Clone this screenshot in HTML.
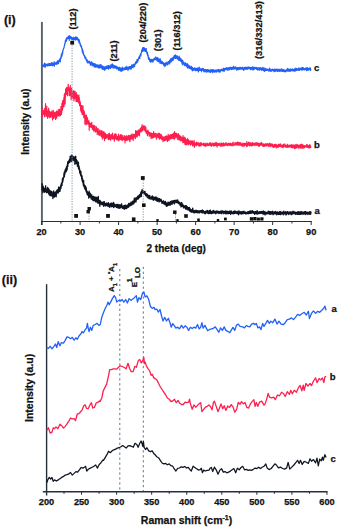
<!DOCTYPE html>
<html><head><meta charset="utf-8"><style>
html,body{margin:0;padding:0;background:#fff;}
svg{display:block;}
text{font-family:"Liberation Sans",sans-serif;font-weight:bold;fill:#111;stroke:#111;stroke-width:0.25px;}
.tk{font-size:9.2px;text-anchor:middle;}
.at{font-size:10px;}
.pn{font-size:12.6px;}
.pk{font-size:9.3px;}
.lb{font-size:9.5px;}
.rl{font-size:8px;}
</style></head><body>
<svg width="339" height="528" viewBox="0 0 339 528">
<rect width="339" height="528" fill="#fff"/>
<line x1="41.9" y1="21.9" x2="41.9" y2="225" stroke="#56626c" stroke-width="1.9"/>
<line x1="41" y1="221.5" x2="311.8" y2="221.5" stroke="#25303a" stroke-width="1.2"/>
<line x1="41.60" y1="221.5" x2="41.60" y2="225.0" stroke="#25303a" stroke-width="1"/>
<text x="41.60" y="235.1" class="tk">20</text>
<line x1="60.86" y1="221.5" x2="60.86" y2="223.5" stroke="#25303a" stroke-width="1"/>
<line x1="80.11" y1="221.5" x2="80.11" y2="225.0" stroke="#25303a" stroke-width="1"/>
<text x="80.11" y="235.1" class="tk">30</text>
<line x1="99.37" y1="221.5" x2="99.37" y2="223.5" stroke="#25303a" stroke-width="1"/>
<line x1="118.62" y1="221.5" x2="118.62" y2="225.0" stroke="#25303a" stroke-width="1"/>
<text x="118.62" y="235.1" class="tk">40</text>
<line x1="137.88" y1="221.5" x2="137.88" y2="223.5" stroke="#25303a" stroke-width="1"/>
<line x1="157.13" y1="221.5" x2="157.13" y2="225.0" stroke="#25303a" stroke-width="1"/>
<text x="157.13" y="235.1" class="tk">50</text>
<line x1="176.38" y1="221.5" x2="176.38" y2="223.5" stroke="#25303a" stroke-width="1"/>
<line x1="195.64" y1="221.5" x2="195.64" y2="225.0" stroke="#25303a" stroke-width="1"/>
<text x="195.64" y="235.1" class="tk">60</text>
<line x1="214.89" y1="221.5" x2="214.89" y2="223.5" stroke="#25303a" stroke-width="1"/>
<line x1="234.15" y1="221.5" x2="234.15" y2="225.0" stroke="#25303a" stroke-width="1"/>
<text x="234.15" y="235.1" class="tk">70</text>
<line x1="253.41" y1="221.5" x2="253.41" y2="223.5" stroke="#25303a" stroke-width="1"/>
<line x1="272.66" y1="221.5" x2="272.66" y2="225.0" stroke="#25303a" stroke-width="1"/>
<text x="272.66" y="235.1" class="tk">80</text>
<line x1="291.92" y1="221.5" x2="291.92" y2="223.5" stroke="#25303a" stroke-width="1"/>
<line x1="311.17" y1="221.5" x2="311.17" y2="225.0" stroke="#25303a" stroke-width="1"/>
<text x="311.17" y="235.1" class="tk">90</text>
<line x1="46.6" y1="284.2" x2="46.6" y2="495.5" stroke="#25303a" stroke-width="1.4"/>
<line x1="42.8" y1="491.8" x2="327.5" y2="491.8" stroke="#25303a" stroke-width="1.4"/>
<line x1="46.50" y1="491.8" x2="46.50" y2="494.8" stroke="#25303a" stroke-width="1"/>
<text x="46.50" y="505.1" class="tk">200</text>
<line x1="64.03" y1="491.8" x2="64.03" y2="493.8" stroke="#25303a" stroke-width="1"/>
<line x1="81.56" y1="491.8" x2="81.56" y2="494.8" stroke="#25303a" stroke-width="1"/>
<text x="81.56" y="505.1" class="tk">250</text>
<line x1="99.09" y1="491.8" x2="99.09" y2="493.8" stroke="#25303a" stroke-width="1"/>
<line x1="116.62" y1="491.8" x2="116.62" y2="494.8" stroke="#25303a" stroke-width="1"/>
<text x="116.62" y="505.1" class="tk">300</text>
<line x1="134.15" y1="491.8" x2="134.15" y2="493.8" stroke="#25303a" stroke-width="1"/>
<line x1="151.68" y1="491.8" x2="151.68" y2="494.8" stroke="#25303a" stroke-width="1"/>
<text x="151.68" y="505.1" class="tk">350</text>
<line x1="169.21" y1="491.8" x2="169.21" y2="493.8" stroke="#25303a" stroke-width="1"/>
<line x1="186.74" y1="491.8" x2="186.74" y2="494.8" stroke="#25303a" stroke-width="1"/>
<text x="186.74" y="505.1" class="tk">400</text>
<line x1="204.27" y1="491.8" x2="204.27" y2="493.8" stroke="#25303a" stroke-width="1"/>
<line x1="221.80" y1="491.8" x2="221.80" y2="494.8" stroke="#25303a" stroke-width="1"/>
<text x="221.80" y="505.1" class="tk">450</text>
<line x1="239.33" y1="491.8" x2="239.33" y2="493.8" stroke="#25303a" stroke-width="1"/>
<line x1="256.86" y1="491.8" x2="256.86" y2="494.8" stroke="#25303a" stroke-width="1"/>
<text x="256.86" y="505.1" class="tk">500</text>
<line x1="274.39" y1="491.8" x2="274.39" y2="493.8" stroke="#25303a" stroke-width="1"/>
<line x1="291.92" y1="491.8" x2="291.92" y2="494.8" stroke="#25303a" stroke-width="1"/>
<text x="291.92" y="505.1" class="tk">550</text>
<line x1="309.45" y1="491.8" x2="309.45" y2="493.8" stroke="#25303a" stroke-width="1"/>
<line x1="326.98" y1="491.8" x2="326.98" y2="494.8" stroke="#25303a" stroke-width="1"/>
<text x="326.98" y="505.1" class="tk">600</text>
<line x1="119.8" y1="269.1" x2="119.8" y2="491" stroke="#5a7386" stroke-width="1" stroke-dasharray="2.2 2.76"/>
<line x1="143.3" y1="266.75" x2="143.3" y2="491" stroke="#5a7386" stroke-width="1" stroke-dasharray="2.2 2.76"/>
<polyline points="42.0,66.3 42.1,66.7 42.2,66.3 42.3,64.8 42.4,66.7 42.5,66.3 42.6,65.4 42.7,66.4 42.8,66.2 42.9,66.1 43.0,65.8 43.1,66.3 43.2,65.1 43.3,65.6 43.4,65.3 43.5,66.2 43.6,65.7 43.7,65.4 43.8,64.9 43.9,65.4 44.0,65.6 44.1,65.3 44.2,66.7 44.3,66.4 44.4,63.1 44.5,63.8 44.6,65.3 44.7,65.1 44.8,65.6 44.9,65.6 45.0,67.3 45.1,64.4 45.2,65.0 45.3,67.2 45.4,65.9 45.5,65.9 45.6,64.9 45.7,63.8 45.8,65.5 45.9,65.4 46.0,64.2 46.1,64.7 46.2,65.2 46.3,64.4 46.4,65.1 46.5,65.3 46.6,65.2 46.7,64.7 46.8,65.7 46.9,66.0 47.0,65.4 47.1,64.4 47.2,65.8 47.3,64.7 47.4,65.9 47.5,64.1 47.6,65.9 47.7,65.1 47.8,63.9 47.9,64.8 48.0,65.1 48.1,65.3 48.2,64.1 48.3,64.0 48.4,65.2 48.5,64.6 48.6,65.2 48.7,65.6 48.8,63.5 48.9,65.2 49.0,66.0 49.1,64.6 49.2,64.2 49.3,65.6 49.4,65.1 49.5,65.7 49.6,64.5 49.7,63.5 49.8,64.7 49.9,64.4 50.0,65.5 50.1,65.0 50.2,63.3 50.3,63.7 50.4,65.5 50.5,65.3 50.6,64.1 50.7,64.7 50.8,65.0 50.9,65.0 51.0,65.4 51.1,64.8 51.2,64.5 51.3,64.3 51.4,65.5 51.5,62.5 51.6,64.4 51.7,64.5 51.8,63.2 51.9,64.7 52.0,63.8 52.1,65.2 52.2,64.2 52.3,64.9 52.4,65.4 52.5,64.6 52.6,63.5 52.7,62.9 52.8,65.8 52.9,64.1 53.0,63.6 53.1,64.3 53.2,64.0 53.3,64.9 53.4,64.2 53.5,64.1 53.6,63.4 53.7,64.5 53.8,63.1 53.9,64.6 54.0,65.4 54.1,62.6 54.2,61.7 54.3,64.5 54.4,66.2 54.5,63.0 54.6,62.8 54.7,64.4 54.8,63.1 54.9,63.4 55.0,63.5 55.1,64.2 55.2,63.3 55.3,63.9 55.4,63.5 55.5,62.8 55.6,63.2 55.7,62.6 55.8,63.4 55.9,62.4 56.0,62.3 56.1,64.6 56.2,63.2 56.3,63.1 56.4,63.6 56.5,62.7 56.6,62.8 56.7,63.4 56.8,63.2 56.9,61.9 57.0,63.6 57.1,62.3 57.2,61.8 57.3,61.9 57.4,62.3 57.5,64.1 57.6,61.5 57.7,62.7 57.8,60.6 57.9,62.4 58.0,63.2 58.1,62.1 58.2,61.6 58.3,62.2 58.4,62.6 58.5,62.4 58.6,63.5 58.7,61.7 58.8,60.9 58.9,61.2 59.0,61.1 59.1,61.2 59.2,60.9 59.3,61.0 59.4,59.2 59.5,61.3 59.6,60.0 59.7,59.3 59.8,60.8 59.9,61.3 60.0,60.4 60.1,59.9 60.2,58.8 60.3,62.0 60.4,60.0 60.5,58.0 60.6,58.1 60.7,58.6 60.8,56.9 60.9,58.1 61.0,57.2 61.1,58.4 61.2,57.8 61.3,54.1 61.4,56.3 61.5,54.5 61.6,56.6 61.7,55.4 61.8,55.4 61.9,53.6 62.0,55.9 62.1,55.7 62.2,52.6 62.3,53.6 62.4,52.3 62.5,52.5 62.6,51.1 62.7,53.6 62.8,50.7 62.9,51.0 63.0,51.3 63.1,50.0 63.2,50.0 63.3,49.4 63.4,49.4 63.5,48.2 63.6,48.5 63.7,48.4 63.8,47.9 63.9,47.9 64.0,47.3 64.1,47.9 64.2,46.5 64.3,46.3 64.4,45.4 64.5,45.1 64.6,44.0 64.7,45.2 64.8,43.3 64.9,43.3 65.0,43.9 65.1,43.5 65.2,42.4 65.3,40.5 65.4,42.3 65.5,41.8 65.6,40.0 65.7,41.8 65.8,40.2 65.9,39.6 66.0,40.5 66.1,40.1 66.2,40.2 66.3,38.3 66.4,41.2 66.5,38.8 66.6,37.8 66.7,39.5 66.8,38.4 66.9,38.8 67.0,38.2 67.1,38.4 67.2,38.6 67.3,37.7 67.4,38.9 67.5,37.8 67.6,37.4 67.7,38.2 67.8,38.5 67.9,37.9 68.0,37.2 68.1,38.5 68.2,36.3 68.3,37.0 68.4,37.9 68.5,36.6 68.6,37.8 68.7,37.7 68.8,38.6 68.9,36.9 69.0,37.2 69.1,38.0 69.2,35.5 69.3,40.4 69.4,37.1 69.5,37.0 69.6,38.4 69.7,37.6 69.8,36.0 69.9,38.2 70.0,38.4 70.1,37.2 70.2,37.4 70.3,38.1 70.4,36.9 70.5,38.1 70.6,38.0 70.7,37.2 70.8,36.6 70.9,37.7 71.0,37.1 71.1,38.8 71.2,38.1 71.3,38.7 71.4,38.1 71.5,38.3 71.6,37.4 71.7,38.7 71.8,39.7 71.9,37.9 72.0,37.7 72.1,38.1 72.2,37.8 72.3,37.7 72.4,38.4 72.5,38.1 72.6,39.7 72.7,38.4 72.8,38.7 72.9,39.3 73.0,38.2 73.1,39.8 73.2,38.0 73.3,37.9 73.4,38.3 73.5,38.5 73.6,37.4 73.7,38.7 73.8,37.2 73.9,40.0 74.0,38.7 74.1,38.2 74.2,38.0 74.3,38.4 74.4,38.6 74.5,37.8 74.6,37.9 74.7,38.6 74.8,38.3 74.9,39.6 75.0,39.7 75.1,38.7 75.2,39.1 75.3,37.5 75.4,39.2 75.5,38.6 75.6,39.1 75.7,40.1 75.8,36.6 75.9,38.8 76.0,37.6 76.1,39.1 76.2,37.4 76.3,38.2 76.4,38.8 76.5,39.2 76.6,38.7 76.7,38.0 76.8,38.2 76.9,39.5 77.0,38.7 77.1,37.2 77.2,39.5 77.3,39.1 77.4,39.6 77.5,38.5 77.6,39.7 77.7,38.1 77.8,39.7 77.9,38.9 78.0,40.1 78.1,40.6 78.2,39.1 78.3,39.9 78.4,40.1 78.5,41.3 78.6,41.0 78.7,39.4 78.8,41.1 78.9,41.5 79.0,42.8 79.1,39.6 79.2,40.7 79.3,42.6 79.4,40.3 79.5,40.7 79.6,42.5 79.7,43.3 79.8,42.0 79.9,43.4 80.0,43.3 80.1,44.9 80.2,43.8 80.3,45.0 80.4,43.5 80.5,44.5 80.6,44.8 80.7,46.2 80.8,46.0 80.9,45.1 81.0,46.7 81.1,47.0 81.2,46.5 81.3,46.7 81.4,47.0 81.5,46.0 81.6,48.0 81.7,48.4 81.8,47.8 81.9,49.5 82.0,48.0 82.1,49.1 82.2,49.5 82.3,52.0 82.4,49.1 82.5,51.4 82.6,52.1 82.7,51.9 82.8,53.0 82.9,51.3 83.0,50.5 83.1,53.5 83.2,52.0 83.3,53.0 83.4,52.4 83.5,54.7 83.6,54.7 83.7,53.5 83.8,55.1 83.9,54.6 84.0,54.6 84.1,55.0 84.2,55.0 84.3,55.9 84.4,55.8 84.5,55.4 84.6,56.9 84.7,55.6 84.8,56.6 84.9,56.9 85.0,58.1 85.1,56.5 85.2,58.7 85.3,57.5 85.4,57.4 85.5,57.2 85.6,58.5 85.7,58.2 85.8,57.4 85.9,57.6 86.0,58.2 86.1,58.3 86.2,60.0 86.3,60.4 86.4,60.1 86.5,59.8 86.6,59.2 86.7,59.8 86.8,60.7 86.9,61.9 87.0,61.0 87.1,60.0 87.2,60.5 87.3,60.1 87.4,60.0 87.5,60.7 87.6,61.2 87.7,62.8 87.8,61.3 87.9,62.6 88.0,63.1 88.1,61.6 88.2,63.0 88.3,62.3 88.4,61.4 88.5,62.0 88.6,61.9 88.7,61.7 88.8,61.8 88.9,62.2 89.0,62.5 89.1,61.4 89.2,62.3 89.3,61.0 89.4,62.6 89.5,63.0 89.6,62.7 89.7,62.9 89.8,63.2 89.9,62.1 90.0,62.6 90.1,63.3 90.2,63.8 90.3,63.3 90.4,65.3 90.5,63.0 90.6,64.0 90.7,64.3 90.8,63.1 90.9,62.5 91.0,62.2 91.1,63.5 91.2,64.4 91.3,63.7 91.4,63.7 91.5,63.2 91.6,64.1 91.7,61.7 91.8,63.9 91.9,63.8 92.0,62.6 92.1,65.8 92.2,62.7 92.3,63.0 92.4,62.9 92.5,65.1 92.6,63.3 92.7,64.8 92.8,64.8 92.9,64.5 93.0,63.2 93.1,63.8 93.2,65.9 93.3,63.3 93.4,63.8 93.5,64.5 93.6,65.4 93.7,64.9 93.8,65.4 93.9,63.9 94.0,65.7 94.1,65.4 94.2,63.5 94.3,66.4 94.4,67.1 94.5,64.4 94.6,65.2 94.7,66.5 94.8,64.0 94.9,63.6 95.0,64.2 95.1,64.9 95.2,64.9 95.3,66.0 95.4,65.8 95.5,64.4 95.6,66.1 95.7,67.3 95.8,66.7 95.9,66.5 96.0,65.7 96.1,66.6 96.2,64.9 96.3,66.4 96.4,65.7 96.5,66.8 96.6,66.3 96.7,64.9 96.8,66.0 96.9,67.0 97.0,64.9 97.1,65.5 97.2,65.3 97.3,64.7 97.4,66.9 97.5,67.3 97.6,66.8 97.7,66.4 97.8,66.1 97.9,66.4 98.0,65.6 98.1,67.1 98.2,67.2 98.3,67.2 98.4,65.9 98.5,66.5 98.6,66.3 98.7,68.0 98.8,66.6 98.9,64.8 99.0,66.9 99.1,68.2 99.2,67.2 99.3,67.4 99.4,66.7 99.5,64.9 99.6,65.1 99.7,65.6 99.8,66.6 99.9,67.1 100.0,67.4 100.1,66.5 100.2,67.7 100.3,66.6 100.4,66.3 100.5,67.7 100.6,66.1 100.7,64.5 100.8,66.0 100.9,67.1 101.0,64.3 101.1,66.7 101.2,66.8 101.3,65.8 101.4,65.8 101.5,66.7 101.6,66.7 101.7,68.3 101.8,67.6 101.9,65.8 102.0,66.5 102.1,67.9 102.2,69.0 102.3,67.7 102.4,67.7 102.5,69.1 102.6,67.4 102.7,67.2 102.8,66.2 102.9,67.0 103.0,69.5 103.1,66.3 103.2,67.6 103.3,66.3 103.4,67.7 103.5,68.4 103.6,67.4 103.7,68.3 103.8,68.4 103.9,68.1 104.0,69.3 104.1,68.5 104.2,67.5 104.3,67.2 104.4,67.1 104.5,68.3 104.6,67.6 104.7,70.4 104.8,69.6 104.9,67.8 105.0,67.7 105.1,69.5 105.2,66.3 105.3,67.5 105.4,68.8 105.5,67.1 105.6,67.5 105.7,67.6 105.8,68.5 105.9,68.0 106.0,68.2 106.1,68.4 106.2,67.8 106.3,68.8 106.4,67.1 106.5,66.5 106.6,66.1 106.7,66.3 106.8,67.2 106.9,68.6 107.0,67.8 107.1,67.1 107.2,66.7 107.3,67.2 107.4,67.3 107.5,67.1 107.6,66.3 107.7,67.1 107.8,68.5 107.9,65.6 108.0,67.3 108.1,65.6 108.2,67.7 108.3,66.8 108.4,65.6 108.5,67.5 108.6,69.1 108.7,67.5 108.8,68.4 108.9,67.3 109.0,65.4 109.1,67.8 109.2,67.0 109.3,66.0 109.4,68.0 109.5,67.5 109.6,66.8 109.7,68.0 109.8,66.4 109.9,67.8 110.0,66.3 110.1,67.7 110.2,66.1 110.3,68.5 110.4,67.3 110.5,68.3 110.6,66.3 110.7,66.6 110.8,67.7 110.9,64.5 111.0,65.9 111.1,67.8 111.2,67.3 111.3,67.7 111.4,66.5 111.5,67.3 111.6,66.1 111.7,65.5 111.8,65.1 111.9,66.1 112.0,66.1 112.1,66.0 112.2,63.8 112.3,64.7 112.4,66.0 112.5,66.7 112.6,65.9 112.7,65.6 112.8,64.3 112.9,68.1 113.0,65.3 113.1,67.8 113.2,67.8 113.3,66.6 113.4,65.9 113.5,66.5 113.6,65.4 113.7,66.7 113.8,66.5 113.9,67.0 114.0,67.4 114.1,68.1 114.2,66.3 114.3,67.6 114.4,65.9 114.5,65.9 114.6,66.1 114.7,65.8 114.8,67.6 114.9,67.6 115.0,68.0 115.1,66.8 115.2,67.2 115.3,66.5 115.4,66.0 115.5,67.5 115.6,67.4 115.7,66.2 115.8,67.8 115.9,65.8 116.0,67.2 116.1,66.9 116.2,67.0 116.3,66.6 116.4,68.5 116.5,68.2 116.6,68.8 116.7,67.9 116.8,66.7 116.9,67.6 117.0,66.9 117.1,68.5 117.2,69.2 117.3,68.5 117.4,67.7 117.5,68.0 117.6,68.5 117.7,67.1 117.8,68.6 117.9,68.7 118.0,68.1 118.1,68.2 118.2,68.8 118.3,68.0 118.4,68.0 118.5,69.5 118.6,69.0 118.7,70.4 118.8,68.0 118.9,67.3 119.0,69.8 119.1,69.9 119.2,68.4 119.3,67.8 119.4,69.1 119.5,67.6 119.6,68.9 119.7,67.3 119.8,69.1 119.9,67.4 120.0,69.2 120.1,70.8 120.2,69.2 120.3,70.2 120.4,69.0 120.5,68.8 120.6,68.3 120.7,70.6 120.8,69.6 120.9,71.2 121.0,68.7 121.1,69.5 121.2,69.8 121.3,70.9 121.4,71.3 121.5,69.0 121.6,68.6 121.7,68.0 121.8,70.7 121.9,69.4 122.0,68.9 122.1,69.4 122.2,67.1 122.3,67.8 122.4,70.2 122.5,69.7 122.6,69.4 122.7,68.3 122.8,69.7 122.9,70.8 123.0,68.1 123.1,69.1 123.2,68.7 123.3,69.4 123.4,69.0 123.5,68.9 123.6,68.2 123.7,68.9 123.8,68.4 123.9,68.7 124.0,68.8 124.1,69.4 124.2,68.3 124.3,68.5 124.4,69.7 124.5,68.5 124.6,68.4 124.7,69.4 124.8,68.9 124.9,68.7 125.0,68.8 125.1,67.4 125.2,68.9 125.3,69.7 125.4,69.0 125.5,67.0 125.6,68.7 125.7,67.6 125.8,68.2 125.9,68.5 126.0,67.3 126.1,69.5 126.2,68.2 126.3,69.0 126.4,68.8 126.5,69.4 126.6,69.3 126.7,66.9 126.8,68.2 126.9,66.2 127.0,67.7 127.1,68.7 127.2,68.9 127.3,69.2 127.4,67.7 127.5,68.3 127.6,68.1 127.7,69.1 127.8,69.4 127.9,67.6 128.0,70.6 128.1,67.9 128.2,67.5 128.3,68.4 128.4,68.5 128.5,68.3 128.6,67.2 128.7,69.1 128.8,67.8 128.9,69.1 129.0,68.9 129.1,66.5 129.2,66.8 129.3,66.7 129.4,67.8 129.5,67.6 129.6,67.8 129.7,66.8 129.8,67.9 129.9,68.8 130.0,66.3 130.1,67.3 130.2,67.6 130.3,67.2 130.4,67.1 130.5,68.9 130.6,68.4 130.7,68.0 130.8,66.5 130.9,69.1 131.0,67.4 131.1,66.5 131.2,66.7 131.3,66.5 131.4,68.8 131.5,67.1 131.6,66.9 131.7,64.9 131.8,67.4 131.9,65.8 132.0,65.7 132.1,67.2 132.2,65.8 132.3,67.3 132.4,67.5 132.5,64.9 132.6,66.3 132.7,65.0 132.8,66.3 132.9,67.1 133.0,65.0 133.1,67.8 133.2,65.8 133.3,65.0 133.4,65.8 133.5,66.5 133.6,64.5 133.7,65.7 133.8,64.3 133.9,66.6 134.0,65.5 134.1,64.9 134.2,66.1 134.3,64.0 134.4,64.7 134.5,66.6 134.6,64.7 134.7,66.0 134.8,64.8 134.9,63.9 135.0,64.2 135.1,64.4 135.2,63.8 135.3,63.3 135.4,63.2 135.5,62.4 135.6,63.7 135.7,63.8 135.8,64.0 135.9,61.5 136.0,63.7 136.1,62.8 136.2,61.4 136.3,62.6 136.4,63.1 136.5,62.7 136.6,62.7 136.7,62.8 136.8,62.6 136.9,61.6 137.0,59.6 137.1,60.6 137.2,61.5 137.3,60.6 137.4,61.5 137.5,61.4 137.6,60.6 137.7,62.1 137.8,59.4 137.9,61.0 138.0,59.5 138.1,59.1 138.2,60.1 138.3,58.8 138.4,60.0 138.5,57.9 138.6,58.8 138.7,57.8 138.8,58.2 138.9,57.8 139.0,57.0 139.1,58.4 139.2,56.5 139.3,56.5 139.4,58.0 139.5,57.9 139.6,57.4 139.7,56.9 139.8,58.4 139.9,55.1 140.0,55.3 140.1,54.9 140.2,56.4 140.3,55.6 140.4,56.2 140.5,55.8 140.6,54.5 140.7,53.7 140.8,53.3 140.9,56.0 141.0,54.6 141.1,54.0 141.2,52.9 141.3,52.8 141.4,52.4 141.5,52.2 141.6,50.1 141.7,51.9 141.8,51.4 141.9,51.7 142.0,51.4 142.1,51.8 142.2,50.7 142.3,51.2 142.4,47.9 142.5,49.1 142.6,51.5 142.7,48.7 142.8,49.5 142.9,50.3 143.0,48.8 143.1,50.2 143.2,48.1 143.3,47.6 143.4,48.1 143.5,47.7 143.6,49.1 143.7,48.7 143.8,49.2 143.9,47.9 144.0,51.1 144.1,48.6 144.2,48.6 144.3,49.0 144.4,48.2 144.5,47.9 144.6,48.6 144.7,49.5 144.8,49.5 144.9,49.9 145.0,48.7 145.1,48.6 145.2,51.3 145.3,49.4 145.4,50.2 145.5,50.6 145.6,51.4 145.7,49.0 145.8,50.0 145.9,50.2 146.0,50.4 146.1,48.7 146.2,50.9 146.3,48.6 146.4,51.6 146.5,52.0 146.6,52.3 146.7,51.0 146.8,53.2 146.9,51.9 147.0,51.9 147.1,52.4 147.2,52.8 147.3,54.0 147.4,54.9 147.5,52.6 147.6,54.3 147.7,55.8 147.8,55.5 147.9,56.1 148.0,54.6 148.1,57.1 148.2,55.1 148.3,57.0 148.4,58.3 148.5,59.1 148.6,58.1 148.7,58.6 148.8,57.5 148.9,57.8 149.0,59.5 149.1,58.6 149.2,58.7 149.3,57.7 149.4,59.3 149.5,60.0 149.6,58.9 149.7,59.3 149.8,61.4 149.9,60.4 150.0,60.1 150.1,59.4 150.2,59.9 150.3,60.3 150.4,61.8 150.5,60.0 150.6,62.2 150.7,59.8 150.8,60.3 150.9,61.4 151.0,60.5 151.1,60.0 151.2,60.6 151.3,61.2 151.4,59.3 151.5,60.6 151.6,60.8 151.7,60.5 151.8,61.6 151.9,60.5 152.0,60.6 152.1,60.9 152.2,61.5 152.3,60.5 152.4,62.0 152.5,59.7 152.6,61.6 152.7,59.6 152.8,60.1 152.9,60.5 153.0,61.9 153.1,60.8 153.2,59.6 153.3,61.0 153.4,59.5 153.5,58.9 153.6,60.0 153.7,59.6 153.8,60.2 153.9,58.8 154.0,59.6 154.1,59.7 154.2,59.4 154.3,59.0 154.4,58.4 154.5,59.8 154.6,59.1 154.7,59.3 154.8,58.5 154.9,58.8 155.0,57.8 155.1,58.8 155.2,59.3 155.3,58.7 155.4,59.3 155.5,58.8 155.6,59.7 155.7,58.3 155.8,56.9 155.9,58.7 156.0,58.2 156.1,57.5 156.2,59.0 156.3,58.7 156.4,59.0 156.5,58.4 156.6,58.9 156.7,59.0 156.8,60.5 156.9,58.3 157.0,59.0 157.1,59.4 157.2,57.6 157.3,57.8 157.4,61.2 157.5,57.8 157.6,59.9 157.7,58.7 157.8,58.9 157.9,57.8 158.0,58.9 158.1,60.5 158.2,58.6 158.3,60.4 158.4,60.2 158.5,61.8 158.6,59.7 158.7,61.3 158.8,61.0 158.9,60.0 159.0,58.9 159.1,61.8 159.2,59.3 159.3,60.1 159.4,61.4 159.5,61.7 159.6,60.0 159.7,60.8 159.8,60.6 159.9,62.0 160.0,63.3 160.1,59.4 160.2,62.0 160.3,58.7 160.4,61.4 160.5,60.4 160.6,63.3 160.7,61.7 160.8,61.0 160.9,61.3 161.0,61.3 161.1,62.1 161.2,61.9 161.3,62.7 161.4,63.6 161.5,62.9 161.6,61.3 161.7,61.0 161.8,61.9 161.9,63.6 162.0,62.4 162.1,62.2 162.2,62.9 162.3,61.6 162.4,61.9 162.5,63.5 162.6,62.8 162.7,62.7 162.8,63.5 162.9,62.7 163.0,62.7 163.1,62.9 163.2,64.0 163.3,63.5 163.4,62.5 163.5,63.3 163.6,64.2 163.7,65.4 163.8,62.8 163.9,64.1 164.0,63.7 164.1,64.7 164.2,64.4 164.3,65.4 164.4,64.6 164.5,63.7 164.6,63.8 164.7,64.7 164.8,64.7 164.9,66.6 165.0,66.0 165.1,63.4 165.2,64.7 165.3,63.2 165.4,62.8 165.5,64.9 165.6,64.7 165.7,63.3 165.8,65.6 165.9,63.2 166.0,63.0 166.1,64.6 166.2,64.2 166.3,63.8 166.4,63.8 166.5,64.0 166.6,63.7 166.7,63.6 166.8,62.0 166.9,62.4 167.0,64.1 167.1,62.9 167.2,63.9 167.3,64.5 167.4,63.0 167.5,63.5 167.6,65.0 167.7,63.7 167.8,64.7 167.9,64.3 168.0,63.5 168.1,62.7 168.2,62.0 168.3,61.6 168.4,63.0 168.5,62.9 168.6,62.3 168.7,63.1 168.8,61.7 168.9,63.2 169.0,62.2 169.1,62.0 169.2,62.0 169.3,61.8 169.4,64.1 169.5,60.3 169.6,61.8 169.7,62.7 169.8,62.2 169.9,61.2 170.0,62.9 170.1,60.3 170.2,60.0 170.3,61.7 170.4,59.8 170.5,58.9 170.6,61.7 170.7,61.5 170.8,61.4 170.9,60.2 171.0,60.7 171.1,59.5 171.2,61.9 171.3,60.9 171.4,60.8 171.5,58.2 171.6,60.6 171.7,61.1 171.8,60.8 171.9,60.3 172.0,59.5 172.1,59.1 172.2,59.8 172.3,59.5 172.4,59.3 172.5,58.7 172.6,60.4 172.7,57.7 172.8,58.7 172.9,58.1 173.0,59.4 173.1,59.7 173.2,59.4 173.3,58.9 173.4,56.8 173.5,59.9 173.6,58.4 173.7,57.8 173.8,57.9 173.9,57.5 174.0,58.1 174.1,58.0 174.2,57.3 174.3,55.3 174.4,57.5 174.5,57.9 174.6,57.9 174.7,57.3 174.8,57.8 174.9,58.2 175.0,56.8 175.1,58.5 175.2,55.4 175.3,56.0 175.4,56.2 175.5,54.8 175.6,56.1 175.7,58.1 175.8,58.1 175.9,57.1 176.0,58.6 176.1,57.3 176.2,56.6 176.3,57.3 176.4,57.0 176.5,57.8 176.6,55.8 176.7,58.0 176.8,56.7 176.9,57.9 177.0,55.8 177.1,56.8 177.2,57.2 177.3,58.0 177.4,56.1 177.5,58.7 177.6,57.7 177.7,56.9 177.8,58.5 177.9,57.6 178.0,58.6 178.1,59.8 178.2,58.5 178.3,57.4 178.4,57.5 178.5,58.5 178.6,58.3 178.7,57.4 178.8,57.6 178.9,58.9 179.0,60.5 179.1,56.1 179.2,59.2 179.3,58.5 179.4,59.4 179.5,59.6 179.6,59.0 179.7,58.1 179.8,57.9 179.9,57.5 180.0,60.4 180.1,59.3 180.2,59.1 180.3,59.4 180.4,58.6 180.5,60.1 180.6,61.2 180.7,61.1 180.8,58.8 180.9,61.5 181.0,59.7 181.1,58.8 181.2,59.5 181.3,59.9 181.4,60.8 181.5,60.0 181.6,59.7 181.7,60.9 181.8,63.0 181.9,60.7 182.0,61.9 182.1,61.6 182.2,64.1 182.3,60.1 182.4,62.9 182.5,60.8 182.6,61.6 182.7,62.1 182.8,65.0 182.9,61.7 183.0,60.8 183.1,63.8 183.2,61.9 183.3,62.6 183.4,62.9 183.5,63.1 183.6,62.9 183.7,63.4 183.8,63.6 183.9,64.2 184.0,63.1 184.1,62.9 184.2,62.7 184.3,64.3 184.4,63.9 184.5,64.5 184.6,64.6 184.7,65.7 184.8,64.5 184.9,65.1 185.0,63.4 185.1,63.6 185.2,64.3 185.3,63.6 185.4,65.4 185.5,63.6 185.6,64.9 185.7,62.7 185.8,64.0 185.9,64.7 186.0,64.9 186.1,63.5 186.2,65.3 186.3,66.2 186.4,65.9 186.5,64.8 186.6,64.9 186.7,64.5 186.8,66.1 186.9,66.9 187.0,65.2 187.1,64.2 187.2,66.0 187.3,66.5 187.4,63.5 187.5,66.1 187.6,68.0 187.7,66.9 187.8,66.7 187.9,66.6 188.0,67.3 188.1,65.5 188.2,65.7 188.3,66.8 188.4,65.9 188.5,66.8 188.6,64.9 188.7,67.4 188.8,67.5 188.9,66.8 189.0,67.0 189.1,68.4 189.2,66.0 189.3,66.2 189.4,66.1 189.5,66.8 189.6,66.3 189.7,67.3 189.8,66.7 189.9,66.1 190.0,66.0 190.1,68.6 190.2,67.5 190.3,67.4 190.4,67.7 190.5,67.6 190.6,68.5 190.7,68.3 190.8,67.4 190.9,67.2 191.0,67.0 191.1,66.9 191.2,69.3 191.3,67.3 191.4,66.3 191.5,67.4 191.6,67.5 191.7,68.5 191.8,67.4 191.9,68.8 192.0,68.6 192.1,69.5 192.2,70.3 192.3,71.0 192.4,69.6 192.5,67.4 192.6,68.1 192.7,68.7 192.8,70.4 192.9,69.2 193.0,69.7 193.1,68.5 193.2,69.2 193.3,69.3 193.4,68.3 193.5,69.4 193.6,69.7 193.7,68.7 193.8,69.8 193.9,70.4 194.0,69.0 194.1,68.9 194.2,68.6 194.3,68.4 194.4,69.1 194.5,68.6 194.6,68.7 194.7,68.3 194.8,67.6 194.9,68.2 195.0,69.3 195.1,68.0 195.2,68.5 195.3,70.6 195.4,70.1 195.5,68.5 195.6,69.7 195.7,68.5 195.8,70.6 195.9,68.6 196.0,69.2 196.1,70.4 196.2,68.4 196.3,70.4 196.4,68.5 196.5,69.4 196.6,69.0 196.7,69.2 196.8,69.4 196.9,69.2 197.0,68.4 197.1,70.1 197.2,70.0 197.3,70.5 197.4,70.6 197.5,68.1 197.6,70.5 197.7,70.5 197.8,68.9 197.9,70.3 198.0,70.7 198.1,68.9 198.2,68.1 198.3,69.1 198.4,71.9 198.5,69.6 198.6,68.3 198.7,69.2 198.8,68.5 198.9,69.1 199.0,69.5 199.1,67.1 199.2,69.8 199.3,70.7 199.4,69.3 199.5,69.1 199.6,70.5 199.7,68.3 199.8,68.4 199.9,68.2 200.0,69.4 200.1,69.8 200.2,69.5 200.3,69.9 200.4,70.2 200.5,69.9 200.6,69.0 200.7,69.4 200.8,70.5 200.9,68.9 201.0,69.5 201.1,69.4 201.2,69.6 201.3,69.0 201.4,68.8 201.5,71.6 201.6,70.5 201.7,69.3 201.8,69.8 201.9,70.3 202.0,69.6 202.1,70.3 202.2,69.5 202.3,69.7 202.4,69.9 202.5,69.6 202.6,68.3 202.7,70.0 202.8,70.2 202.9,70.4 203.0,69.3 203.1,70.3 203.2,70.2 203.3,68.9 203.4,68.6 203.5,70.5 203.6,69.5 203.7,70.9 203.8,71.7 203.9,69.8 204.0,69.7 204.1,70.2 204.2,70.7 204.3,69.5 204.4,71.2 204.5,71.0 204.6,70.8 204.7,70.0 204.8,71.0 204.9,71.0 205.0,69.6 205.1,71.9 205.2,70.2 205.3,70.7 205.4,70.1 205.5,70.7 205.6,71.3 205.7,69.9 205.8,69.3 205.9,70.2 206.0,69.6 206.1,70.0 206.2,70.5 206.3,70.5 206.4,71.5 206.5,69.9 206.6,70.8 206.7,70.2 206.8,71.6 206.9,72.4 207.0,70.9 207.1,71.8 207.2,70.3 207.3,69.6 207.4,69.8 207.5,69.6 207.6,70.0 207.7,70.6 207.8,71.5 207.9,71.2 208.0,71.1 208.1,70.5 208.2,70.3 208.3,70.8 208.4,70.9 208.5,71.0 208.6,71.1 208.7,70.8 208.8,69.5 208.9,70.1 209.0,70.3 209.1,72.1 209.2,70.6 209.3,71.4 209.4,72.0 209.5,71.2 209.6,70.7 209.7,70.8 209.8,70.3 209.9,71.2 210.0,71.8 210.1,71.4 210.2,71.5 210.3,71.5 210.4,72.4 210.5,70.6 210.6,71.1 210.7,71.5 210.8,71.9 210.9,69.3 211.0,70.6 211.1,70.9 211.2,70.3 211.3,71.6 211.4,71.2 211.5,70.7 211.6,69.9 211.7,70.1 211.8,70.3 211.9,71.3 212.0,70.1 212.1,69.6 212.2,70.0 212.3,70.6 212.4,72.2 212.5,72.8 212.6,70.7 212.7,71.7 212.8,72.0 212.9,71.9 213.0,70.9 213.1,70.1 213.2,70.7 213.3,69.7 213.4,71.2 213.5,71.5 213.6,69.7 213.7,71.0 213.8,71.2 213.9,71.9 214.0,72.0 214.1,71.6 214.2,70.5 214.3,70.7 214.4,71.8 214.5,70.6 214.6,71.0 214.7,72.1 214.8,71.1 214.9,70.0 215.0,70.8 215.1,71.4 215.2,70.8 215.3,71.8 215.4,71.8 215.5,70.5 215.6,70.6 215.7,70.8 215.8,70.1 215.9,71.2 216.0,70.8 216.1,71.4 216.2,70.4 216.3,70.2 216.4,72.1 216.5,70.2 216.6,70.4 216.7,70.3 216.8,70.6 216.9,70.1 217.0,70.7 217.1,70.3 217.2,70.4 217.3,71.0 217.4,71.2 217.5,71.0 217.6,70.2 217.7,71.0 217.8,70.6 217.9,70.6 218.0,69.4 218.1,71.1 218.2,70.5 218.3,71.8 218.4,71.0 218.5,69.8 218.6,69.6 218.7,71.4 218.8,69.9 218.9,71.0 219.0,70.3 219.1,72.0 219.2,70.6 219.3,71.5 219.4,71.4 219.5,70.1 219.6,70.2 219.7,71.5 219.8,70.4 219.9,69.8 220.0,71.2 220.1,72.2 220.2,70.3 220.3,71.3 220.4,70.2 220.5,71.2 220.6,70.1 220.7,71.2 220.8,70.6 220.9,70.1 221.0,70.4 221.1,69.8 221.2,69.4 221.3,69.4 221.4,70.1 221.5,69.3 221.6,70.4 221.7,70.4 221.8,70.3 221.9,69.6 222.0,70.0 222.1,69.9 222.2,70.8 222.3,69.3 222.4,69.6 222.5,69.7 222.6,69.7 222.7,69.3 222.8,69.3 222.9,70.5 223.0,69.3 223.1,70.3 223.2,71.1 223.3,70.6 223.4,68.4 223.5,70.2 223.6,69.9 223.7,69.9 223.8,68.4 223.9,70.0 224.0,68.7 224.1,70.4 224.2,70.2 224.3,71.2 224.4,69.1 224.5,68.3 224.6,70.1 224.7,69.9 224.8,69.0 224.9,70.2 225.0,69.7 225.1,68.3 225.2,69.0 225.3,68.9 225.4,69.1 225.5,69.3 225.6,68.6 225.7,69.0 225.8,69.5 225.9,69.0 226.0,68.9 226.1,68.8 226.2,69.0 226.3,67.7 226.4,69.1 226.5,68.3 226.6,69.0 226.7,67.9 226.8,69.6 226.9,69.1 227.0,67.9 227.1,69.0 227.2,68.3 227.3,70.1 227.4,69.2 227.5,68.2 227.6,68.9 227.7,68.7 227.8,69.6 227.9,69.0 228.0,69.1 228.1,67.9 228.2,69.2 228.3,70.1 228.4,69.1 228.5,68.6 228.6,68.7 228.7,67.9 228.8,68.7 228.9,67.8 229.0,68.6 229.1,68.2 229.2,67.9 229.3,68.9 229.4,67.4 229.5,68.4 229.6,67.5 229.7,69.7 229.8,69.8 229.9,69.0 230.0,69.7 230.1,68.8 230.2,68.7 230.3,68.0 230.4,67.7 230.5,68.4 230.6,67.9 230.7,68.0 230.8,68.8 230.9,68.2 231.0,67.2 231.1,68.1 231.2,67.7 231.3,68.1 231.4,67.5 231.5,69.1 231.6,69.6 231.7,67.5 231.8,68.7 231.9,68.6 232.0,67.5 232.1,68.3 232.2,69.2 232.3,68.8 232.4,69.3 232.5,67.4 232.6,67.7 232.7,68.4 232.8,68.4 232.9,68.2 233.0,67.9 233.1,67.9 233.2,67.7 233.3,68.5 233.4,66.2 233.5,69.2 233.6,67.8 233.7,67.1 233.8,68.5 233.9,67.1 234.0,68.4 234.1,67.8 234.2,68.5 234.3,68.6 234.4,69.0 234.5,67.7 234.6,67.9 234.7,68.0 234.8,67.1 234.9,68.4 235.0,68.1 235.1,67.1 235.2,68.9 235.3,69.0 235.4,67.1 235.5,68.5 235.6,68.9 235.7,68.7 235.8,67.4 235.9,67.1 236.0,68.0 236.1,67.7 236.2,68.1 236.3,68.0 236.4,68.5 236.5,67.7 236.6,68.0 236.7,70.2 236.8,68.0 236.9,68.7 237.0,68.3 237.1,68.3 237.2,67.5 237.3,68.5 237.4,68.1 237.5,68.7 237.6,69.6 237.7,68.3 237.8,68.7 237.9,67.5 238.0,68.3 238.1,69.3 238.2,68.2 238.3,67.8 238.4,68.4 238.5,68.1 238.6,68.1 238.7,68.0 238.8,69.6 238.9,67.6 239.0,68.0 239.1,67.9 239.2,69.1 239.3,68.1 239.4,69.2 239.5,68.4 239.6,68.3 239.7,67.3 239.8,69.2 239.9,68.7 240.0,68.6 240.1,68.2 240.2,68.0 240.3,67.4 240.4,69.0 240.5,68.5 240.6,68.1 240.7,67.9 240.8,68.4 240.9,68.3 241.0,69.5 241.1,68.9 241.2,67.9 241.3,67.5 241.4,68.1 241.5,67.7 241.6,68.4 241.7,68.6 241.8,68.8 241.9,68.6 242.0,68.2 242.1,68.7 242.2,67.7 242.3,68.3 242.4,68.9 242.5,68.5 242.6,67.4 242.7,67.5 242.8,67.2 242.9,69.6 243.0,67.2 243.1,68.2 243.2,69.6 243.3,69.1 243.4,69.2 243.5,68.0 243.6,68.8 243.7,70.4 243.8,68.3 243.9,68.6 244.0,68.1 244.1,68.3 244.2,68.6 244.3,69.3 244.4,67.7 244.5,67.3 244.6,68.3 244.7,68.5 244.8,69.3 244.9,68.8 245.0,67.9 245.1,68.7 245.2,69.1 245.3,68.5 245.4,68.1 245.5,68.8 245.6,68.1 245.7,67.0 245.8,69.2 245.9,67.4 246.0,68.1 246.1,68.1 246.2,68.0 246.3,68.1 246.4,67.3 246.5,68.6 246.6,68.3 246.7,68.3 246.8,69.0 246.9,69.0 247.0,69.2 247.1,69.5 247.2,68.5 247.3,67.2 247.4,68.4 247.5,68.2 247.6,68.3 247.7,67.8 247.8,67.6 247.9,68.8 248.0,68.9 248.1,67.4 248.2,68.6 248.3,68.1 248.4,67.9 248.5,68.7 248.6,68.1 248.7,67.8 248.8,68.2 248.9,66.8 249.0,67.7 249.1,67.8 249.2,67.2 249.3,68.3 249.4,68.3 249.5,67.7 249.6,68.0 249.7,68.6 249.8,68.9 249.9,67.6 250.0,68.4 250.1,68.8 250.2,68.1 250.3,67.6 250.4,67.6 250.5,67.9 250.6,67.4 250.7,69.6 250.8,67.8 250.9,68.4 251.0,68.3 251.1,68.6 251.2,67.9 251.3,67.3 251.4,69.3 251.5,68.1 251.6,68.3 251.7,68.3 251.8,69.1 251.9,68.8 252.0,69.0 252.1,68.8 252.2,68.3 252.3,68.4 252.4,67.7 252.5,66.9 252.6,68.1 252.7,67.5 252.8,70.1 252.9,69.4 253.0,69.1 253.1,67.9 253.2,69.7 253.3,67.1 253.4,67.5 253.5,67.8 253.6,67.6 253.7,68.4 253.8,68.5 253.9,69.7 254.0,69.0 254.1,69.2 254.2,68.6 254.3,68.3 254.4,67.9 254.5,67.3 254.6,67.8 254.7,68.1 254.8,68.9 254.9,67.2 255.0,67.4 255.1,68.6 255.2,67.7 255.3,68.7 255.4,68.2 255.5,67.9 255.6,67.5 255.7,68.4 255.8,68.0 255.9,68.1 256.0,68.1 256.1,68.6 256.2,68.6 256.3,67.3 256.4,68.4 256.5,68.8 256.6,69.3 256.7,69.1 256.8,68.7 256.9,67.8 257.0,68.1 257.1,69.3 257.2,68.1 257.3,69.3 257.4,69.5 257.5,67.9 257.6,69.0 257.7,68.6 257.8,70.1 257.9,69.3 258.0,68.3 258.1,69.0 258.2,68.1 258.3,68.6 258.4,68.9 258.5,68.9 258.6,69.0 258.7,68.1 258.8,67.5 258.9,68.5 259.0,68.2 259.1,68.3 259.2,70.3 259.3,69.6 259.4,68.7 259.5,67.8 259.6,68.0 259.7,69.1 259.8,69.6 259.9,68.7 260.0,69.0 260.1,69.1 260.2,69.7 260.3,67.6 260.4,69.1 260.5,69.3 260.6,69.6 260.7,69.3 260.8,68.2 260.9,68.6 261.0,68.0 261.1,69.2 261.2,69.2 261.3,69.4 261.4,68.4 261.5,68.3 261.6,70.2 261.7,69.3 261.8,70.4 261.9,69.5 262.0,68.2 262.1,69.8 262.2,70.1 262.3,68.9 262.4,67.9 262.5,69.7 262.6,69.2 262.7,69.5 262.8,67.4 262.9,69.6 263.0,67.4 263.1,68.7 263.2,70.0 263.3,68.1 263.4,68.1 263.5,69.1 263.6,70.6 263.7,70.5 263.8,69.0 263.9,70.1 264.0,69.9 264.1,69.7 264.2,69.7 264.3,69.0 264.4,70.1 264.5,70.3 264.6,71.4 264.7,70.2 264.8,67.9 264.9,68.7 265.0,69.8 265.1,69.7 265.2,68.3 265.3,69.5 265.4,69.4 265.5,69.6 265.6,69.6 265.7,70.3 265.8,70.7 265.9,70.2 266.0,68.9 266.1,69.1 266.2,69.3 266.3,69.7 266.4,69.4 266.5,69.5 266.6,69.1 266.7,70.4 266.8,70.4 266.9,70.5 267.0,69.7 267.1,70.1 267.2,69.2 267.3,69.1 267.4,69.5 267.5,70.3 267.6,69.8 267.7,69.1 267.8,69.9 267.9,70.2 268.0,70.0 268.1,69.4 268.2,70.0 268.3,69.6 268.4,69.7 268.5,69.9 268.6,70.5 268.7,71.2 268.8,71.1 268.9,70.4 269.0,69.7 269.1,69.8 269.2,69.8 269.3,70.8 269.4,68.1 269.5,70.2 269.6,68.7 269.7,70.1 269.8,71.0 269.9,69.5 270.0,68.5 270.1,71.0 270.2,71.2 270.3,70.5 270.4,71.0 270.5,69.6 270.6,70.9 270.7,71.3 270.8,70.6 270.9,70.3 271.0,71.0 271.1,70.9 271.2,69.6 271.3,71.1 271.4,70.7 271.5,70.3 271.6,71.1 271.7,70.8 271.8,70.7 271.9,69.8 272.0,70.8 272.1,69.4 272.2,70.1 272.3,69.0 272.4,69.0 272.5,70.5 272.6,70.1 272.7,70.3 272.8,70.6 272.9,70.5 273.0,69.6 273.1,70.3 273.2,70.2 273.3,69.9 273.4,70.1 273.5,70.0 273.6,69.8 273.7,70.0 273.8,70.4 273.9,71.7 274.0,69.7 274.1,70.6 274.2,69.2 274.3,71.4 274.4,70.0 274.5,70.4 274.6,71.2 274.7,71.0 274.8,69.2 274.9,70.7 275.0,70.1 275.1,70.7 275.2,70.4 275.3,70.8 275.4,70.5 275.5,70.2 275.6,71.1 275.7,69.2 275.8,70.0 275.9,69.6 276.0,70.2 276.1,70.0 276.2,70.2 276.3,70.0 276.4,70.0 276.5,69.1 276.6,70.3 276.7,70.5 276.8,69.9 276.9,69.8 277.0,69.8 277.1,71.5 277.2,70.4 277.3,70.6 277.4,70.1 277.5,70.0 277.6,69.7 277.7,71.4 277.8,69.1 277.9,70.5 278.0,70.3 278.1,70.1 278.2,69.2 278.3,69.4 278.4,71.0 278.5,69.8 278.6,70.9 278.7,70.8 278.8,70.7 278.9,70.8 279.0,69.5 279.1,70.0 279.2,70.8 279.3,69.4 279.4,71.5 279.5,69.9 279.6,70.3 279.7,69.6 279.8,70.6 279.9,69.8 280.0,70.1 280.1,69.5 280.2,71.2 280.3,69.2 280.4,70.7 280.5,70.5 280.6,70.7 280.7,69.7 280.8,71.1 280.9,71.1 281.0,70.5 281.1,70.6 281.2,70.3 281.3,70.9 281.4,69.9 281.5,70.8 281.6,70.7 281.7,69.5 281.8,68.6 281.9,70.4 282.0,70.4 282.1,71.4 282.2,70.6 282.3,70.2 282.4,69.6 282.5,70.5 282.6,70.2 282.7,69.8 282.8,70.5 282.9,71.3 283.0,70.7 283.1,69.9 283.2,70.8 283.3,69.9 283.4,69.5 283.5,71.0 283.6,70.3 283.7,71.4 283.8,70.9 283.9,70.1 284.0,70.9 284.1,71.6 284.2,70.6 284.3,70.0 284.4,70.3 284.5,70.2 284.6,69.9 284.7,69.9 284.8,71.1 284.9,71.6 285.0,70.5 285.1,71.3 285.2,71.4 285.3,71.9 285.4,70.6 285.5,70.5 285.6,71.0 285.7,70.8 285.8,70.9 285.9,71.6 286.0,70.4 286.1,70.8 286.2,69.9 286.3,70.5 286.4,70.1 286.5,70.1 286.6,70.4 286.7,70.2 286.8,70.8 286.9,71.1 287.0,69.5 287.1,71.2 287.2,68.9 287.3,70.7 287.4,71.0 287.5,70.0 287.6,70.3 287.7,69.9 287.8,71.0 287.9,68.3 288.0,69.7 288.1,69.0 288.2,70.5 288.3,71.2 288.4,71.2 288.5,70.8 288.6,70.5 288.7,69.7 288.8,71.1 288.9,70.7 289.0,69.6 289.1,69.3 289.2,69.8 289.3,71.0 289.4,71.1 289.5,71.3 289.6,69.6 289.7,69.9 289.8,71.1 289.9,70.3 290.0,70.6 290.1,69.2 290.2,69.8 290.3,70.1 290.4,69.8 290.5,69.8 290.6,68.9 290.7,71.2 290.8,70.1 290.9,69.0 291.0,70.8 291.1,70.0 291.2,70.5 291.3,69.8 291.4,69.4 291.5,69.4 291.6,70.2 291.7,70.5 291.8,70.3 291.9,70.4 292.0,70.8 292.1,70.1 292.2,70.6 292.3,70.7 292.4,70.1 292.5,69.8 292.6,69.6 292.7,69.0 292.8,68.8 292.9,70.8 293.0,69.8 293.1,69.4 293.2,70.9 293.3,70.5 293.4,69.8 293.5,70.5 293.6,69.6 293.7,70.0 293.8,71.0 293.9,70.5 294.0,69.5 294.1,70.2 294.2,70.5 294.3,69.6 294.4,69.4 294.5,71.0 294.6,69.5 294.7,68.8 294.8,69.8 294.9,71.3 295.0,70.1 295.1,70.3 295.2,68.1 295.3,69.3 295.4,70.5 295.5,69.3 295.6,70.5 295.7,69.9 295.8,69.9 295.9,70.8 296.0,69.2 296.1,69.3 296.2,69.6 296.3,69.7 296.4,68.4 296.5,70.4 296.6,69.7 296.7,69.4 296.8,69.9 296.9,69.2 297.0,70.3 297.1,69.5 297.2,70.0 297.3,68.8 297.4,69.3 297.5,69.7 297.6,68.8 297.7,69.0 297.8,69.4 297.9,70.2 298.0,69.9 298.1,70.0 298.2,69.6 298.3,70.0 298.4,70.4 298.5,69.5 298.6,69.6 298.7,69.7 298.8,67.9 298.9,69.2 299.0,69.6 299.1,69.8 299.2,69.0 299.3,69.9 299.4,68.8 299.5,69.1 299.6,70.4 299.7,68.3 299.8,69.1 299.9,69.1 300.0,69.1 300.1,68.8 300.2,69.6 300.3,68.4 300.4,68.2 300.5,69.5 300.6,68.3 300.7,69.4 300.8,69.1 300.9,68.6 301.0,68.9 301.1,69.0 301.2,69.4 301.3,68.7 301.4,69.0 301.5,68.1 301.6,68.9 301.7,67.7 301.8,69.0 301.9,68.8 302.0,70.5 302.1,70.0 302.2,68.9 302.3,69.7 302.4,69.2 302.5,68.2 302.6,67.3 302.7,69.8 302.8,69.3 302.9,67.6 303.0,69.5 303.1,69.6 303.2,68.5 303.3,69.5 303.4,67.8 303.5,68.8 303.6,69.0 303.7,69.5 303.8,69.3 303.9,69.1 304.0,69.4 304.1,68.5 304.2,70.0 304.3,68.7 304.4,69.5 304.5,68.9 304.6,68.8 304.7,69.3 304.8,69.2 304.9,69.9 305.0,69.7 305.1,68.5 305.2,69.3 305.3,69.0 305.4,68.4 305.5,68.2 305.6,69.1 305.7,68.6 305.8,68.0 305.9,68.9 306.0,69.1 306.1,69.0 306.2,68.1 306.3,68.6 306.4,69.9 306.5,68.4 306.6,68.7 306.7,70.6 306.8,69.2 306.9,68.6 307.0,67.6 307.1,69.2 307.2,68.0 307.3,69.0 307.4,68.4 307.5,67.8 307.6,70.2 307.7,68.9 307.8,69.6 307.9,69.5 308.0,68.5 308.1,69.1 308.2,68.8 308.3,69.7 308.4,69.3 308.5,68.8 308.6,70.2 308.7,69.4 308.8,69.4 308.9,68.5 309.0,69.3 309.1,68.0 309.2,69.4 309.3,68.4 309.4,69.2 309.5,68.9 309.6,69.2 309.7,69.3 309.8,69.0 309.9,69.0 310.0,68.0 310.1,67.7 310.2,70.0 310.3,69.5 310.4,68.0 310.5,70.4 310.6,68.6 310.7,69.4 310.8,69.4 310.9,69.2 311.0,69.5" fill="none" stroke="#2260f6" stroke-width="1.15" stroke-linejoin="round"/>
<polyline points="42.0,113.4 42.1,111.8 42.2,112.0 42.3,107.5 42.4,116.8 42.5,115.4 42.6,112.1 42.7,114.5 42.8,113.4 42.9,111.5 43.0,114.8 43.1,112.0 43.2,111.9 43.3,110.8 43.4,113.5 43.5,112.3 43.6,113.7 43.7,111.1 43.8,112.7 43.9,110.4 44.0,114.2 44.1,112.7 44.2,113.0 44.3,113.1 44.4,110.0 44.5,113.9 44.6,116.7 44.7,108.5 44.8,108.3 44.9,108.7 45.0,113.9 45.1,112.3 45.2,114.5 45.3,113.7 45.4,112.6 45.5,103.6 45.6,111.9 45.7,114.2 45.8,109.8 45.9,111.4 46.0,112.9 46.1,116.4 46.2,110.8 46.3,110.1 46.4,111.3 46.5,114.7 46.6,112.1 46.7,115.6 46.8,106.0 46.9,115.2 47.0,115.1 47.1,109.7 47.2,113.2 47.3,115.6 47.4,113.2 47.5,115.2 47.6,118.3 47.7,113.7 47.8,112.5 47.9,111.5 48.0,114.6 48.1,112.8 48.2,112.9 48.3,113.1 48.4,114.8 48.5,111.1 48.6,110.1 48.7,108.1 48.8,116.2 48.9,113.7 49.0,116.9 49.1,113.6 49.2,112.0 49.3,114.8 49.4,113.6 49.5,111.0 49.6,111.9 49.7,117.8 49.8,114.7 49.9,114.9 50.0,113.4 50.1,112.5 50.2,116.0 50.3,113.8 50.4,112.4 50.5,113.8 50.6,112.1 50.7,114.6 50.8,116.6 50.9,112.3 51.0,117.3 51.1,112.8 51.2,114.6 51.3,112.4 51.4,113.8 51.5,114.4 51.6,113.4 51.7,112.8 51.8,112.9 51.9,112.6 52.0,110.9 52.1,113.8 52.2,115.3 52.3,116.5 52.4,115.9 52.5,119.9 52.6,115.2 52.7,113.5 52.8,118.7 52.9,112.3 53.0,116.7 53.1,112.5 53.2,115.4 53.3,110.3 53.4,116.7 53.5,114.4 53.6,112.6 53.7,118.4 53.8,116.4 53.9,114.9 54.0,113.2 54.1,114.7 54.2,114.5 54.3,116.5 54.4,116.6 54.5,113.4 54.6,113.7 54.7,113.8 54.8,112.0 54.9,113.7 55.0,114.8 55.1,116.5 55.2,117.8 55.3,113.1 55.4,116.1 55.5,113.9 55.6,119.4 55.7,114.7 55.8,115.8 55.9,112.6 56.0,112.9 56.1,115.1 56.2,113.8 56.3,115.3 56.4,111.1 56.5,116.0 56.6,112.5 56.7,118.2 56.8,113.8 56.9,116.8 57.0,111.3 57.1,115.2 57.2,112.3 57.3,113.2 57.4,114.3 57.5,113.5 57.6,114.7 57.7,115.7 57.8,115.5 57.9,113.8 58.0,111.0 58.1,112.2 58.2,113.5 58.3,109.3 58.4,115.6 58.5,113.3 58.6,113.3 58.7,115.9 58.8,115.3 58.9,114.3 59.0,111.5 59.1,114.4 59.2,114.5 59.3,111.7 59.4,115.9 59.5,114.7 59.6,109.3 59.7,113.8 59.8,110.8 59.9,116.0 60.0,115.2 60.1,110.8 60.2,111.0 60.3,112.9 60.4,111.9 60.5,115.5 60.6,113.5 60.7,110.9 60.8,112.5 60.9,106.5 61.0,111.5 61.1,112.7 61.2,109.7 61.3,108.0 61.4,111.1 61.5,114.4 61.6,109.6 61.7,105.8 61.8,112.2 61.9,103.3 62.0,109.2 62.1,106.1 62.2,109.8 62.3,104.9 62.4,110.2 62.5,107.2 62.6,101.6 62.7,100.6 62.8,104.5 62.9,108.3 63.0,104.9 63.1,104.3 63.2,103.1 63.3,105.3 63.4,103.9 63.5,103.3 63.6,99.6 63.7,104.9 63.8,104.9 63.9,97.6 64.0,106.6 64.1,102.1 64.2,98.5 64.3,94.4 64.4,100.7 64.5,100.1 64.6,96.8 64.7,93.3 64.8,100.5 64.9,95.7 65.0,95.7 65.1,104.0 65.2,101.8 65.3,98.4 65.4,94.3 65.5,96.9 65.6,88.9 65.7,94.8 65.8,92.2 65.9,90.4 66.0,89.3 66.1,94.5 66.2,93.0 66.3,92.9 66.4,94.5 66.5,90.0 66.6,88.9 66.7,87.3 66.8,91.0 66.9,93.7 67.0,91.2 67.1,93.2 67.2,88.3 67.3,90.1 67.4,89.2 67.5,87.8 67.6,95.8 67.7,93.1 67.8,88.7 67.9,88.6 68.0,90.4 68.1,86.8 68.2,84.2 68.3,87.4 68.4,89.8 68.5,88.2 68.6,89.7 68.7,87.6 68.8,87.0 68.9,88.7 69.0,89.5 69.1,90.6 69.2,91.6 69.3,95.4 69.4,93.7 69.5,91.0 69.6,93.6 69.7,90.0 69.8,95.6 69.9,93.4 70.0,88.5 70.1,94.0 70.2,94.3 70.3,85.3 70.4,90.4 70.5,91.2 70.6,87.5 70.7,89.8 70.8,90.2 70.9,94.0 71.0,93.6 71.1,99.7 71.2,91.9 71.3,96.0 71.4,93.3 71.5,93.9 71.6,90.3 71.7,88.4 71.8,91.4 71.9,95.5 72.0,97.7 72.1,95.3 72.2,95.1 72.3,91.7 72.4,97.9 72.5,97.5 72.6,92.7 72.7,94.1 72.8,91.7 72.9,98.2 73.0,95.5 73.1,94.3 73.2,95.7 73.3,95.9 73.4,93.7 73.5,91.6 73.6,91.6 73.7,90.5 73.8,96.3 73.9,101.0 74.0,90.9 74.1,95.7 74.2,96.5 74.3,92.9 74.4,96.1 74.5,92.7 74.6,98.8 74.7,94.2 74.8,96.0 74.9,97.6 75.0,94.8 75.1,91.3 75.2,94.6 75.3,98.1 75.4,95.9 75.5,96.8 75.6,93.5 75.7,96.7 75.8,98.3 75.9,96.5 76.0,101.5 76.1,96.1 76.2,94.0 76.3,92.6 76.4,99.9 76.5,96.9 76.6,99.8 76.7,98.4 76.8,101.6 76.9,100.7 77.0,96.6 77.1,98.4 77.2,100.6 77.3,94.7 77.4,101.7 77.5,101.2 77.6,100.7 77.7,97.8 77.8,99.2 77.9,95.6 78.0,98.8 78.1,97.3 78.2,99.3 78.3,98.0 78.4,100.3 78.5,102.9 78.6,96.6 78.7,102.7 78.8,95.3 78.9,95.1 79.0,100.7 79.1,101.2 79.2,102.6 79.3,97.4 79.4,101.8 79.5,102.5 79.6,105.7 79.7,102.4 79.8,104.4 79.9,100.8 80.0,103.2 80.1,102.8 80.2,106.1 80.3,102.0 80.4,102.7 80.5,106.7 80.6,110.2 80.7,106.8 80.8,106.9 80.9,105.6 81.0,109.6 81.1,108.5 81.2,111.9 81.3,108.5 81.4,105.5 81.5,106.8 81.6,106.0 81.7,105.6 81.8,112.4 81.9,111.5 82.0,106.4 82.1,114.6 82.2,110.8 82.3,108.0 82.4,111.8 82.5,110.9 82.6,109.3 82.7,106.6 82.8,112.0 82.9,112.9 83.0,105.7 83.1,114.2 83.2,114.6 83.3,112.0 83.4,113.7 83.5,112.9 83.6,111.6 83.7,113.1 83.8,117.7 83.9,110.6 84.0,115.2 84.1,115.3 84.2,113.2 84.3,114.1 84.4,111.8 84.5,113.4 84.6,115.8 84.7,116.8 84.8,113.9 84.9,124.2 85.0,115.1 85.1,117.1 85.2,116.4 85.3,116.2 85.4,120.8 85.5,116.3 85.6,121.3 85.7,120.9 85.8,115.5 85.9,121.1 86.0,117.1 86.1,124.8 86.2,118.1 86.3,117.1 86.4,115.1 86.5,116.7 86.6,118.5 86.7,117.7 86.8,117.4 86.9,118.8 87.0,120.1 87.1,123.9 87.2,117.2 87.3,119.9 87.4,119.2 87.5,118.1 87.6,118.8 87.7,119.8 87.8,123.5 87.9,121.6 88.0,121.0 88.1,123.6 88.2,123.0 88.3,122.0 88.4,123.5 88.5,121.0 88.6,124.3 88.7,124.1 88.8,122.3 88.9,120.6 89.0,126.8 89.1,123.8 89.2,130.3 89.3,122.4 89.4,125.8 89.5,123.1 89.6,124.8 89.7,126.2 89.8,122.7 89.9,124.4 90.0,125.0 90.1,125.0 90.2,126.0 90.3,126.9 90.4,126.7 90.5,125.8 90.6,124.9 90.7,123.6 90.8,124.4 90.9,124.9 91.0,127.2 91.1,125.4 91.2,123.9 91.3,127.3 91.4,124.8 91.5,125.0 91.6,126.0 91.7,127.3 91.8,122.2 91.9,124.6 92.0,127.0 92.1,126.1 92.2,125.2 92.3,125.9 92.4,129.4 92.5,126.2 92.6,128.3 92.7,128.6 92.8,126.4 92.9,128.1 93.0,126.5 93.1,126.3 93.2,125.4 93.3,129.1 93.4,126.9 93.5,126.7 93.6,125.7 93.7,131.1 93.8,129.2 93.9,127.7 94.0,126.8 94.1,125.3 94.2,128.7 94.3,128.8 94.4,125.9 94.5,130.6 94.6,130.0 94.7,127.0 94.8,127.8 94.9,128.1 95.0,129.3 95.1,128.8 95.2,126.2 95.3,132.0 95.4,130.0 95.5,131.8 95.6,131.9 95.7,129.3 95.8,130.4 95.9,131.2 96.0,131.4 96.1,129.8 96.2,129.1 96.3,130.4 96.4,129.0 96.5,129.5 96.6,126.9 96.7,130.9 96.8,129.0 96.9,129.9 97.0,130.9 97.1,131.6 97.2,134.5 97.3,131.6 97.4,128.7 97.5,131.6 97.6,130.3 97.7,132.2 97.8,130.3 97.9,130.3 98.0,130.7 98.1,130.6 98.2,128.5 98.3,130.7 98.4,131.9 98.5,134.2 98.6,131.5 98.7,131.5 98.8,133.2 98.9,133.2 99.0,135.2 99.1,133.5 99.2,132.4 99.3,134.9 99.4,135.4 99.5,131.8 99.6,133.0 99.7,129.8 99.8,132.2 99.9,131.3 100.0,132.6 100.1,132.2 100.2,132.8 100.3,133.0 100.4,134.1 100.5,133.7 100.6,132.3 100.7,131.1 100.8,135.7 100.9,136.0 101.0,132.7 101.1,134.6 101.2,130.9 101.3,130.9 101.4,133.3 101.5,136.5 101.6,132.0 101.7,132.4 101.8,136.9 101.9,130.6 102.0,135.2 102.1,135.0 102.2,133.8 102.3,134.6 102.4,139.0 102.5,132.3 102.6,133.8 102.7,134.0 102.8,133.3 102.9,132.2 103.0,137.5 103.1,135.1 103.2,131.6 103.3,133.5 103.4,135.6 103.5,135.6 103.6,132.4 103.7,134.8 103.8,135.5 103.9,135.8 104.0,135.9 104.1,131.9 104.2,138.6 104.3,135.7 104.4,138.6 104.5,140.6 104.6,135.2 104.7,133.3 104.8,137.1 104.9,135.3 105.0,134.9 105.1,133.9 105.2,138.8 105.3,135.0 105.4,133.2 105.5,135.0 105.6,133.7 105.7,136.1 105.8,135.1 105.9,133.9 106.0,136.9 106.1,134.7 106.2,137.2 106.3,138.2 106.4,135.3 106.5,134.8 106.6,136.3 106.7,137.6 106.8,136.0 106.9,136.3 107.0,136.0 107.1,136.6 107.2,137.2 107.3,134.8 107.4,135.2 107.5,136.2 107.6,134.9 107.7,136.4 107.8,137.1 107.9,136.1 108.0,135.1 108.1,134.8 108.2,139.4 108.3,137.8 108.4,134.2 108.5,134.7 108.6,139.6 108.7,139.0 108.8,136.5 108.9,138.4 109.0,133.7 109.1,136.4 109.2,137.7 109.3,133.0 109.4,135.0 109.5,137.8 109.6,138.5 109.7,135.4 109.8,137.0 109.9,139.4 110.0,135.9 110.1,134.5 110.2,136.4 110.3,136.0 110.4,138.5 110.5,136.8 110.6,135.4 110.7,140.2 110.8,135.9 110.9,137.4 111.0,137.7 111.1,137.9 111.2,137.0 111.3,137.6 111.4,136.6 111.5,134.6 111.6,136.4 111.7,136.5 111.8,136.5 111.9,137.0 112.0,135.9 112.1,138.8 112.2,139.2 112.3,133.6 112.4,136.9 112.5,135.8 112.6,133.0 112.7,137.5 112.8,136.0 112.9,136.4 113.0,136.0 113.1,138.6 113.2,138.9 113.3,137.4 113.4,138.1 113.5,136.9 113.6,137.3 113.7,136.0 113.8,137.2 113.9,136.1 114.0,137.7 114.1,138.4 114.2,137.6 114.3,139.0 114.4,141.2 114.5,134.1 114.6,137.3 114.7,136.4 114.8,136.6 114.9,135.2 115.0,137.4 115.1,136.9 115.2,136.4 115.3,136.9 115.4,136.5 115.5,133.8 115.6,139.0 115.7,136.9 115.8,136.0 115.9,137.8 116.0,136.4 116.1,134.1 116.2,138.8 116.3,134.9 116.4,137.1 116.5,137.6 116.6,139.5 116.7,139.3 116.8,137.7 116.9,136.3 117.0,136.9 117.1,139.1 117.2,140.2 117.3,138.3 117.4,136.6 117.5,139.1 117.6,137.0 117.7,137.0 117.8,137.2 117.9,138.5 118.0,138.0 118.1,139.1 118.2,139.6 118.3,138.4 118.4,134.1 118.5,135.1 118.6,137.9 118.7,137.6 118.8,140.9 118.9,137.6 119.0,137.5 119.1,139.1 119.2,139.3 119.3,137.4 119.4,138.4 119.5,136.0 119.6,136.3 119.7,139.6 119.8,135.7 119.9,139.2 120.0,138.8 120.1,139.0 120.2,139.2 120.3,138.7 120.4,134.6 120.5,136.4 120.6,137.0 120.7,139.3 120.8,136.2 120.9,136.9 121.0,137.4 121.1,139.9 121.2,135.8 121.3,136.0 121.4,138.9 121.5,134.8 121.6,138.5 121.7,137.4 121.8,135.7 121.9,137.4 122.0,136.6 122.1,138.3 122.2,138.7 122.3,140.4 122.4,138.1 122.5,138.3 122.6,137.3 122.7,138.1 122.8,139.8 122.9,135.3 123.0,139.2 123.1,137.4 123.2,138.4 123.3,138.7 123.4,139.6 123.5,138.6 123.6,137.7 123.7,138.8 123.8,138.3 123.9,138.0 124.0,138.7 124.1,139.7 124.2,138.6 124.3,138.6 124.4,136.5 124.5,138.2 124.6,135.7 124.7,139.5 124.8,137.1 124.9,140.4 125.0,143.0 125.1,137.9 125.2,140.5 125.3,139.1 125.4,137.6 125.5,137.2 125.6,139.3 125.7,140.5 125.8,138.9 125.9,136.1 126.0,136.8 126.1,138.0 126.2,140.4 126.3,138.7 126.4,138.8 126.5,140.1 126.6,138.0 126.7,138.1 126.8,138.0 126.9,135.6 127.0,138.9 127.1,138.8 127.2,139.7 127.3,136.4 127.4,136.9 127.5,139.6 127.6,138.6 127.7,140.2 127.8,136.8 127.9,138.4 128.0,137.1 128.1,138.5 128.2,137.3 128.3,138.8 128.4,139.6 128.5,139.0 128.6,135.3 128.7,139.4 128.8,138.6 128.9,136.4 129.0,136.6 129.1,137.9 129.2,138.8 129.3,137.2 129.4,135.5 129.5,138.3 129.6,138.1 129.7,141.5 129.8,135.9 129.9,141.6 130.0,140.4 130.1,138.2 130.2,140.2 130.3,137.8 130.4,139.1 130.5,136.5 130.6,137.7 130.7,136.0 130.8,135.1 130.9,137.0 131.0,136.4 131.1,138.2 131.2,139.2 131.3,137.0 131.4,137.3 131.5,137.4 131.6,134.6 131.7,137.5 131.8,137.0 131.9,136.9 132.0,135.3 132.1,133.9 132.2,136.5 132.3,137.3 132.4,138.8 132.5,138.4 132.6,138.9 132.7,137.2 132.8,138.3 132.9,136.2 133.0,137.4 133.1,137.8 133.2,140.4 133.3,136.7 133.4,134.4 133.5,138.3 133.6,135.0 133.7,136.0 133.8,135.6 133.9,134.6 134.0,137.9 134.1,136.7 134.2,134.9 134.3,135.8 134.4,135.0 134.5,136.5 134.6,135.0 134.7,134.3 134.8,134.5 134.9,134.7 135.0,135.7 135.1,133.9 135.2,135.0 135.3,135.8 135.4,138.6 135.5,136.3 135.6,130.5 135.7,134.1 135.8,134.2 135.9,135.2 136.0,137.0 136.1,135.7 136.2,131.1 136.3,134.9 136.4,134.5 136.5,134.9 136.6,136.2 136.7,132.4 136.8,135.6 136.9,131.4 137.0,133.9 137.1,134.3 137.2,137.0 137.3,132.5 137.4,130.9 137.5,134.4 137.6,132.3 137.7,135.5 137.8,132.0 137.9,131.7 138.0,134.8 138.1,132.9 138.2,134.2 138.3,130.5 138.4,135.0 138.5,131.6 138.6,133.6 138.7,130.8 138.8,129.9 138.9,131.7 139.0,132.2 139.1,134.2 139.2,132.2 139.3,132.7 139.4,132.4 139.5,135.8 139.6,129.9 139.7,132.9 139.8,130.7 139.9,131.1 140.0,129.8 140.1,132.2 140.2,128.4 140.3,128.2 140.4,129.7 140.5,128.2 140.6,130.8 140.7,131.0 140.8,128.4 140.9,130.5 141.0,128.2 141.1,129.1 141.2,129.1 141.3,131.8 141.4,128.9 141.5,127.4 141.6,127.3 141.7,130.4 141.8,126.1 141.9,127.8 142.0,127.8 142.1,124.6 142.2,127.5 142.3,129.7 142.4,128.4 142.5,126.6 142.6,129.0 142.7,128.6 142.8,130.8 142.9,126.6 143.0,127.1 143.1,127.7 143.2,127.6 143.3,128.0 143.4,127.8 143.5,127.0 143.6,125.7 143.7,127.3 143.8,126.2 143.9,126.7 144.0,127.6 144.1,129.2 144.2,129.8 144.3,127.1 144.4,129.2 144.5,130.0 144.6,128.8 144.7,126.5 144.8,125.8 144.9,130.3 145.0,130.6 145.1,129.7 145.2,127.8 145.3,131.7 145.4,131.5 145.5,129.7 145.6,129.6 145.7,127.1 145.8,131.3 145.9,127.9 146.0,131.5 146.1,131.7 146.2,130.9 146.3,133.2 146.4,130.5 146.5,132.0 146.6,132.4 146.7,131.7 146.8,130.9 146.9,133.5 147.0,132.4 147.1,131.6 147.2,131.8 147.3,132.3 147.4,135.7 147.5,132.5 147.6,132.1 147.7,131.0 147.8,130.9 147.9,130.0 148.0,133.3 148.1,133.1 148.2,131.7 148.3,131.1 148.4,133.0 148.5,132.8 148.6,131.7 148.7,134.3 148.8,134.1 148.9,134.0 149.0,135.3 149.1,133.2 149.2,136.3 149.3,132.8 149.4,135.2 149.5,135.4 149.6,134.2 149.7,135.1 149.8,132.7 149.9,132.5 150.0,134.5 150.1,133.8 150.2,135.8 150.3,135.0 150.4,136.0 150.5,135.6 150.6,135.5 150.7,135.4 150.8,134.8 150.9,134.7 151.0,138.5 151.1,132.8 151.2,135.2 151.3,137.0 151.4,136.2 151.5,137.7 151.6,136.4 151.7,133.7 151.8,135.2 151.9,133.6 152.0,137.2 152.1,137.9 152.2,135.1 152.3,136.6 152.4,135.2 152.5,133.7 152.6,135.2 152.7,133.5 152.8,135.0 152.9,136.2 153.0,137.0 153.1,137.9 153.2,135.4 153.3,136.3 153.4,136.5 153.5,136.7 153.6,131.6 153.7,134.7 153.8,137.1 153.9,134.2 154.0,136.2 154.1,137.1 154.2,133.0 154.3,135.6 154.4,136.2 154.5,135.8 154.6,133.5 154.7,136.3 154.8,135.0 154.9,137.0 155.0,136.4 155.1,134.9 155.2,136.0 155.3,134.7 155.4,134.7 155.5,133.4 155.6,135.4 155.7,136.9 155.8,135.9 155.9,135.7 156.0,134.8 156.1,134.9 156.2,136.8 156.3,133.5 156.4,138.9 156.5,135.7 156.6,139.1 156.7,137.6 156.8,135.2 156.9,137.0 157.0,136.3 157.1,136.6 157.2,137.1 157.3,135.1 157.4,135.0 157.5,135.4 157.6,134.0 157.7,135.6 157.8,136.4 157.9,136.5 158.0,136.4 158.1,135.5 158.2,137.3 158.3,133.1 158.4,135.6 158.5,135.7 158.6,137.6 158.7,137.2 158.8,137.5 158.9,136.3 159.0,137.7 159.1,134.9 159.2,136.6 159.3,133.4 159.4,139.2 159.5,139.1 159.6,135.9 159.7,135.6 159.8,133.8 159.9,134.8 160.0,137.3 160.1,137.0 160.2,135.0 160.3,136.5 160.4,136.3 160.5,138.1 160.6,138.5 160.7,137.1 160.8,137.6 160.9,137.5 161.0,134.4 161.1,137.8 161.2,137.5 161.3,138.8 161.4,134.9 161.5,138.9 161.6,136.8 161.7,138.2 161.8,139.6 161.9,135.7 162.0,135.9 162.1,139.4 162.2,136.3 162.3,136.6 162.4,139.0 162.5,137.8 162.6,139.3 162.7,138.6 162.8,138.2 162.9,139.7 163.0,141.6 163.1,138.2 163.2,140.6 163.3,140.1 163.4,138.6 163.5,139.1 163.6,137.1 163.7,137.6 163.8,139.0 163.9,138.5 164.0,140.6 164.1,136.7 164.2,138.3 164.3,137.8 164.4,138.6 164.5,140.6 164.6,137.0 164.7,140.2 164.8,138.0 164.9,138.5 165.0,140.5 165.1,138.5 165.2,139.9 165.3,139.1 165.4,138.6 165.5,138.3 165.6,136.2 165.7,137.7 165.8,139.0 165.9,139.1 166.0,136.5 166.1,140.2 166.2,139.6 166.3,136.7 166.4,137.1 166.5,139.4 166.6,135.9 166.7,137.4 166.8,138.5 166.9,138.3 167.0,138.4 167.1,139.0 167.2,137.2 167.3,137.7 167.4,141.5 167.5,136.3 167.6,137.7 167.7,138.5 167.8,137.3 167.9,140.1 168.0,138.3 168.1,139.3 168.2,134.2 168.3,139.9 168.4,139.8 168.5,136.9 168.6,139.9 168.7,138.3 168.8,139.3 168.9,140.5 169.0,137.9 169.1,136.2 169.2,137.7 169.3,135.7 169.4,136.4 169.5,136.4 169.6,136.4 169.7,139.2 169.8,138.7 169.9,136.0 170.0,139.0 170.1,134.8 170.2,136.3 170.3,137.0 170.4,138.9 170.5,138.2 170.6,137.7 170.7,139.0 170.8,138.1 170.9,139.0 171.0,135.7 171.1,134.3 171.2,136.2 171.3,138.0 171.4,137.2 171.5,138.1 171.6,137.8 171.7,137.4 171.8,137.9 171.9,135.5 172.0,138.2 172.1,135.0 172.2,136.3 172.3,134.3 172.4,137.2 172.5,134.1 172.6,138.5 172.7,134.3 172.8,136.7 172.9,136.1 173.0,134.9 173.1,138.1 173.2,135.5 173.3,138.3 173.4,134.6 173.5,134.9 173.6,133.0 173.7,136.8 173.8,137.3 173.9,136.3 174.0,135.7 174.1,134.5 174.2,139.3 174.3,136.8 174.4,132.9 174.5,135.1 174.6,131.6 174.7,137.9 174.8,138.4 174.9,137.6 175.0,135.2 175.1,134.4 175.2,133.1 175.3,135.9 175.4,134.0 175.5,134.4 175.6,134.0 175.7,134.4 175.8,136.2 175.9,137.3 176.0,135.0 176.1,134.8 176.2,133.2 176.3,133.2 176.4,133.5 176.5,136.5 176.6,135.7 176.7,136.9 176.8,136.2 176.9,135.0 177.0,133.9 177.1,135.3 177.2,133.8 177.3,139.0 177.4,136.5 177.5,135.7 177.6,139.3 177.7,135.8 177.8,137.4 177.9,136.4 178.0,137.3 178.1,136.2 178.2,137.6 178.3,139.1 178.4,135.1 178.5,133.7 178.6,139.2 178.7,137.5 178.8,138.6 178.9,136.9 179.0,139.7 179.1,140.2 179.2,135.8 179.3,138.6 179.4,136.7 179.5,135.3 179.6,137.3 179.7,138.7 179.8,135.8 179.9,136.0 180.0,139.9 180.1,138.2 180.2,138.8 180.3,136.5 180.4,137.3 180.5,138.5 180.6,138.7 180.7,138.7 180.8,141.0 180.9,138.9 181.0,136.4 181.1,137.4 181.2,138.7 181.3,140.8 181.4,137.9 181.5,138.4 181.6,139.0 181.7,138.0 181.8,137.9 181.9,138.8 182.0,140.7 182.1,140.0 182.2,138.9 182.3,140.0 182.4,137.5 182.5,141.0 182.6,140.7 182.7,140.1 182.8,137.2 182.9,142.8 183.0,135.5 183.1,138.4 183.2,138.5 183.3,141.0 183.4,137.8 183.5,140.5 183.6,139.9 183.7,139.8 183.8,141.6 183.9,142.5 184.0,141.0 184.1,140.1 184.2,137.1 184.3,142.8 184.4,140.2 184.5,137.9 184.6,141.0 184.7,143.0 184.8,140.7 184.9,139.2 185.0,144.4 185.1,142.0 185.2,141.6 185.3,142.7 185.4,137.9 185.5,141.1 185.6,141.0 185.7,144.7 185.8,140.5 185.9,140.5 186.0,139.3 186.1,140.2 186.2,141.2 186.3,141.9 186.4,141.2 186.5,144.6 186.6,142.4 186.7,142.6 186.8,143.8 186.9,142.7 187.0,141.0 187.1,139.5 187.2,142.4 187.3,140.6 187.4,143.9 187.5,140.8 187.6,138.6 187.7,142.1 187.8,143.7 187.9,141.8 188.0,142.4 188.1,142.4 188.2,144.8 188.3,142.7 188.4,142.2 188.5,141.4 188.6,139.8 188.7,144.5 188.8,144.2 188.9,141.0 189.0,143.4 189.1,143.0 189.2,142.0 189.3,142.1 189.4,143.8 189.5,140.8 189.6,141.9 189.7,142.6 189.8,142.8 189.9,142.5 190.0,143.2 190.1,143.7 190.2,141.5 190.3,143.0 190.4,142.1 190.5,145.2 190.6,140.8 190.7,142.6 190.8,144.1 190.9,142.6 191.0,142.5 191.1,142.2 191.2,143.5 191.3,141.3 191.4,143.0 191.5,143.0 191.6,140.9 191.7,143.6 191.8,142.5 191.9,143.7 192.0,144.5 192.1,143.8 192.2,141.5 192.3,143.8 192.4,140.9 192.5,142.2 192.6,145.9 192.7,143.4 192.8,145.8 192.9,143.1 193.0,143.4 193.1,141.8 193.2,144.9 193.3,143.2 193.4,144.5 193.5,144.2 193.6,144.4 193.7,144.1 193.8,143.5 193.9,143.6 194.0,142.6 194.1,140.4 194.2,144.4 194.3,146.9 194.4,145.4 194.5,147.3 194.6,144.5 194.7,142.3 194.8,142.3 194.9,145.0 195.0,144.2 195.1,143.7 195.2,144.5 195.3,143.2 195.4,144.4 195.5,143.7 195.6,144.1 195.7,145.0 195.8,143.8 195.9,145.2 196.0,145.1 196.1,143.3 196.2,146.0 196.3,142.9 196.4,143.9 196.5,144.7 196.6,142.1 196.7,144.9 196.8,145.0 196.9,144.0 197.0,144.3 197.1,144.3 197.2,143.9 197.3,145.0 197.4,143.8 197.5,144.1 197.6,144.4 197.7,144.9 197.8,145.1 197.9,142.9 198.0,142.4 198.1,144.0 198.2,144.1 198.3,143.2 198.4,144.4 198.5,144.7 198.6,144.5 198.7,145.6 198.8,143.3 198.9,144.2 199.0,145.9 199.1,144.8 199.2,143.3 199.3,144.4 199.4,145.3 199.5,146.1 199.6,144.8 199.7,145.3 199.8,143.3 199.9,144.1 200.0,145.3 200.1,143.5 200.2,144.3 200.3,142.7 200.4,145.6 200.5,144.2 200.6,144.8 200.7,143.1 200.8,143.2 200.9,146.0 201.0,144.1 201.1,143.9 201.2,144.9 201.3,144.9 201.4,142.7 201.5,143.6 201.6,144.5 201.7,144.5 201.8,144.8 201.9,144.1 202.0,144.3 202.1,144.7 202.2,143.9 202.3,143.8 202.4,144.1 202.5,144.6 202.6,144.4 202.7,144.2 202.8,144.4 202.9,144.5 203.0,144.9 203.1,144.9 203.2,143.5 203.3,145.5 203.4,143.3 203.5,145.1 203.6,144.0 203.7,145.2 203.8,145.6 203.9,143.1 204.0,145.2 204.1,144.9 204.2,144.3 204.3,145.1 204.4,144.3 204.5,144.8 204.6,143.8 204.7,145.4 204.8,145.3 204.9,145.4 205.0,144.2 205.1,146.4 205.2,146.5 205.3,144.7 205.4,144.4 205.5,144.4 205.6,145.4 205.7,145.6 205.8,144.1 205.9,143.0 206.0,145.1 206.1,144.7 206.2,144.9 206.3,145.2 206.4,143.8 206.5,144.8 206.6,144.5 206.7,145.1 206.8,145.8 206.9,144.7 207.0,144.0 207.1,145.8 207.2,145.3 207.3,144.5 207.4,143.2 207.5,143.9 207.6,144.8 207.7,145.2 207.8,144.2 207.9,145.1 208.0,144.1 208.1,144.3 208.2,145.1 208.3,144.4 208.4,144.8 208.5,145.4 208.6,145.6 208.7,144.1 208.8,144.4 208.9,143.5 209.0,143.5 209.1,144.9 209.2,144.2 209.3,143.0 209.4,145.1 209.5,143.9 209.6,144.3 209.7,145.0 209.8,145.0 209.9,144.6 210.0,142.9 210.1,145.1 210.2,144.1 210.3,143.4 210.4,142.7 210.5,145.7 210.6,144.7 210.7,144.7 210.8,145.1 210.9,144.5 211.0,143.3 211.1,145.2 211.2,145.4 211.3,145.0 211.4,145.9 211.5,146.2 211.6,143.9 211.7,144.2 211.8,145.3 211.9,144.7 212.0,144.7 212.1,145.3 212.2,145.2 212.3,144.2 212.4,144.6 212.5,143.9 212.6,144.4 212.7,143.6 212.8,142.9 212.9,144.1 213.0,144.0 213.1,145.3 213.2,145.9 213.3,144.5 213.4,144.9 213.5,144.0 213.6,143.7 213.7,144.3 213.8,144.3 213.9,144.8 214.0,144.6 214.1,145.9 214.2,144.3 214.3,143.1 214.4,144.6 214.5,143.9 214.6,144.7 214.7,145.4 214.8,143.9 214.9,144.4 215.0,144.9 215.1,143.7 215.2,144.7 215.3,144.9 215.4,145.2 215.5,145.4 215.6,144.9 215.7,144.8 215.8,143.3 215.9,142.2 216.0,143.7 216.1,145.7 216.2,144.6 216.3,142.6 216.4,144.1 216.5,144.8 216.6,142.9 216.7,145.0 216.8,143.5 216.9,145.4 217.0,144.5 217.1,147.1 217.2,143.4 217.3,144.7 217.4,143.2 217.5,145.5 217.6,144.6 217.7,145.3 217.8,144.6 217.9,143.5 218.0,143.9 218.1,143.4 218.2,143.6 218.3,144.6 218.4,145.4 218.5,145.2 218.6,144.9 218.7,144.0 218.8,144.9 218.9,143.8 219.0,144.7 219.1,145.2 219.2,144.3 219.3,144.1 219.4,144.1 219.5,145.0 219.6,144.2 219.7,143.3 219.8,144.1 219.9,143.6 220.0,145.8 220.1,144.5 220.2,143.2 220.3,144.7 220.4,145.1 220.5,144.8 220.6,144.2 220.7,144.6 220.8,144.7 220.9,145.3 221.0,144.8 221.1,146.4 221.2,144.3 221.3,145.8 221.4,144.5 221.5,143.1 221.6,143.5 221.7,143.0 221.8,143.0 221.9,145.5 222.0,143.9 222.1,145.0 222.2,143.7 222.3,144.5 222.4,143.6 222.5,145.2 222.6,144.3 222.7,144.1 222.8,144.4 222.9,146.3 223.0,144.9 223.1,145.2 223.2,143.4 223.3,143.9 223.4,144.7 223.5,142.9 223.6,145.6 223.7,144.7 223.8,144.5 223.9,144.3 224.0,144.3 224.1,144.1 224.2,145.7 224.3,145.1 224.4,145.5 224.5,144.2 224.6,143.8 224.7,145.6 224.8,143.5 224.9,144.0 225.0,145.1 225.1,145.4 225.2,143.4 225.3,144.3 225.4,144.5 225.5,144.4 225.6,143.8 225.7,145.0 225.8,144.0 225.9,144.3 226.0,142.6 226.1,144.4 226.2,142.8 226.3,145.1 226.4,144.9 226.5,144.0 226.6,144.6 226.7,144.5 226.8,144.3 226.9,144.7 227.0,144.3 227.1,144.0 227.2,143.8 227.3,145.8 227.4,144.6 227.5,144.4 227.6,145.0 227.7,144.1 227.8,144.1 227.9,145.0 228.0,145.3 228.1,145.0 228.2,143.1 228.3,144.4 228.4,144.4 228.5,144.8 228.6,143.6 228.7,143.5 228.8,144.3 228.9,143.6 229.0,143.5 229.1,144.3 229.2,145.1 229.3,144.5 229.4,145.3 229.5,143.5 229.6,145.0 229.7,144.3 229.8,143.6 229.9,144.0 230.0,143.6 230.1,144.2 230.2,143.7 230.3,145.4 230.4,144.0 230.5,143.1 230.6,144.2 230.7,144.6 230.8,144.1 230.9,145.0 231.0,143.5 231.1,143.6 231.2,145.7 231.3,144.3 231.4,144.8 231.5,144.7 231.6,144.8 231.7,144.3 231.8,144.1 231.9,145.2 232.0,143.9 232.1,144.4 232.2,144.9 232.3,143.9 232.4,143.0 232.5,144.7 232.6,145.2 232.7,144.5 232.8,142.9 232.9,144.8 233.0,145.9 233.1,143.0 233.2,142.0 233.3,144.0 233.4,144.3 233.5,144.9 233.6,144.9 233.7,144.3 233.8,144.7 233.9,144.5 234.0,144.3 234.1,144.2 234.2,144.1 234.3,144.8 234.4,144.6 234.5,143.9 234.6,145.1 234.7,143.6 234.8,144.0 234.9,144.3 235.0,142.6 235.1,143.9 235.2,144.9 235.3,144.9 235.4,143.2 235.5,143.5 235.6,143.3 235.7,144.0 235.8,144.1 235.9,142.9 236.0,144.5 236.1,144.3 236.2,144.1 236.3,143.6 236.4,144.0 236.5,142.7 236.6,144.4 236.7,144.4 236.8,144.1 236.9,143.2 237.0,145.3 237.1,145.1 237.2,142.6 237.3,144.5 237.4,144.3 237.5,142.1 237.6,144.6 237.7,144.7 237.8,144.8 237.9,144.3 238.0,143.7 238.1,143.8 238.2,144.6 238.3,145.2 238.4,143.8 238.5,144.0 238.6,144.8 238.7,142.4 238.8,144.6 238.9,144.0 239.0,142.4 239.1,144.8 239.2,143.4 239.3,144.9 239.4,145.3 239.5,143.2 239.6,143.2 239.7,144.2 239.8,142.8 239.9,144.8 240.0,144.4 240.1,145.0 240.2,142.7 240.3,144.4 240.4,144.6 240.5,142.7 240.6,144.9 240.7,143.1 240.8,144.4 240.9,143.1 241.0,144.9 241.1,145.6 241.2,144.3 241.3,144.2 241.4,145.3 241.5,143.8 241.6,144.3 241.7,144.9 241.8,144.6 241.9,145.5 242.0,145.2 242.1,145.8 242.2,144.2 242.3,145.2 242.4,143.6 242.5,145.0 242.6,145.7 242.7,146.2 242.8,143.2 242.9,144.1 243.0,144.9 243.1,143.5 243.2,144.7 243.3,144.7 243.4,143.9 243.5,143.8 243.6,143.5 243.7,144.5 243.8,145.3 243.9,144.5 244.0,146.6 244.1,143.0 244.2,143.8 244.3,144.8 244.4,143.3 244.5,144.6 244.6,145.0 244.7,144.4 244.8,144.1 244.9,145.1 245.0,144.6 245.1,144.9 245.2,144.7 245.3,143.7 245.4,143.4 245.5,144.0 245.6,144.4 245.7,144.1 245.8,145.1 245.9,144.5 246.0,145.1 246.1,144.4 246.2,143.7 246.3,145.0 246.4,144.7 246.5,143.6 246.6,143.9 246.7,146.6 246.8,141.6 246.9,145.2 247.0,144.3 247.1,144.2 247.2,144.0 247.3,143.8 247.4,146.2 247.5,143.9 247.6,144.0 247.7,144.9 247.8,144.6 247.9,144.1 248.0,144.0 248.1,143.1 248.2,145.2 248.3,143.4 248.4,142.2 248.5,145.1 248.6,144.9 248.7,144.5 248.8,143.8 248.9,145.2 249.0,143.3 249.1,142.4 249.2,144.4 249.3,144.9 249.4,144.7 249.5,146.0 249.6,144.9 249.7,144.0 249.8,144.1 249.9,145.0 250.0,144.2 250.1,144.1 250.2,142.7 250.3,144.0 250.4,143.1 250.5,144.4 250.6,144.3 250.7,144.8 250.8,145.7 250.9,144.1 251.0,145.4 251.1,143.3 251.2,144.4 251.3,145.0 251.4,145.9 251.5,143.3 251.6,144.0 251.7,144.3 251.8,144.1 251.9,143.4 252.0,142.8 252.1,143.2 252.2,144.1 252.3,143.1 252.4,145.7 252.5,145.3 252.6,142.6 252.7,143.8 252.8,145.3 252.9,145.4 253.0,145.2 253.1,143.0 253.2,143.9 253.3,145.3 253.4,144.3 253.5,143.8 253.6,144.6 253.7,145.1 253.8,144.3 253.9,144.4 254.0,145.1 254.1,143.7 254.2,143.4 254.3,144.9 254.4,143.2 254.5,144.6 254.6,143.6 254.7,144.9 254.8,143.2 254.9,145.2 255.0,144.5 255.1,144.0 255.2,143.5 255.3,144.1 255.4,143.5 255.5,143.2 255.6,145.2 255.7,144.8 255.8,145.3 255.9,143.1 256.0,142.6 256.1,142.9 256.2,144.8 256.3,145.0 256.4,142.7 256.5,145.2 256.6,143.9 256.7,143.3 256.8,144.2 256.9,144.8 257.0,144.1 257.1,144.2 257.2,143.6 257.3,143.1 257.4,144.0 257.5,143.0 257.6,144.9 257.7,143.6 257.8,145.5 257.9,143.0 258.0,145.6 258.1,143.6 258.2,143.6 258.3,144.6 258.4,145.2 258.5,144.4 258.6,144.1 258.7,146.1 258.8,144.9 258.9,143.4 259.0,144.2 259.1,145.9 259.2,144.7 259.3,145.2 259.4,146.2 259.5,144.0 259.6,144.8 259.7,143.9 259.8,144.5 259.9,144.9 260.0,143.4 260.1,144.6 260.2,144.6 260.3,145.4 260.4,144.0 260.5,143.4 260.6,144.9 260.7,143.6 260.8,144.7 260.9,145.0 261.0,143.8 261.1,144.5 261.2,143.7 261.3,142.2 261.4,143.3 261.5,142.8 261.6,144.6 261.7,143.7 261.8,144.5 261.9,144.6 262.0,145.5 262.1,144.3 262.2,144.3 262.3,145.1 262.4,146.0 262.5,144.6 262.6,144.9 262.7,144.5 262.8,144.1 262.9,143.3 263.0,144.6 263.1,144.4 263.2,144.5 263.3,146.4 263.4,144.4 263.5,145.0 263.6,144.4 263.7,145.7 263.8,144.5 263.9,146.3 264.0,144.5 264.1,145.4 264.2,145.6 264.3,144.5 264.4,145.5 264.5,144.8 264.6,144.1 264.7,144.2 264.8,145.1 264.9,146.3 265.0,144.4 265.1,145.3 265.2,144.1 265.3,145.0 265.4,143.7 265.5,144.2 265.6,144.8 265.7,144.2 265.8,144.6 265.9,145.7 266.0,144.8 266.1,144.3 266.2,143.8 266.3,144.4 266.4,145.9 266.5,144.8 266.6,144.8 266.7,145.5 266.8,145.6 266.9,145.8 267.0,144.6 267.1,144.2 267.2,143.5 267.3,144.4 267.4,144.7 267.5,145.6 267.6,145.3 267.7,144.5 267.8,145.8 267.9,143.9 268.0,144.1 268.1,144.0 268.2,144.1 268.3,144.8 268.4,144.3 268.5,144.4 268.6,146.2 268.7,143.8 268.8,144.2 268.9,144.9 269.0,145.5 269.1,145.5 269.2,144.9 269.3,144.8 269.4,144.9 269.5,145.8 269.6,144.3 269.7,143.1 269.8,145.3 269.9,144.2 270.0,145.1 270.1,146.3 270.2,145.3 270.3,146.7 270.4,143.8 270.5,145.4 270.6,145.5 270.7,145.9 270.8,144.6 270.9,145.4 271.0,145.3 271.1,145.3 271.2,144.1 271.3,143.8 271.4,145.7 271.5,145.6 271.6,145.3 271.7,145.8 271.8,146.2 271.9,144.3 272.0,146.0 272.1,146.6 272.2,146.2 272.3,145.8 272.4,145.9 272.5,144.1 272.6,144.9 272.7,146.2 272.8,146.6 272.9,145.8 273.0,145.0 273.1,145.3 273.2,146.1 273.3,147.1 273.4,146.1 273.5,145.0 273.6,146.0 273.7,145.8 273.8,147.5 273.9,146.0 274.0,145.5 274.1,145.4 274.2,144.5 274.3,144.6 274.4,145.1 274.5,144.8 274.6,145.7 274.7,145.6 274.8,146.4 274.9,146.9 275.0,145.7 275.1,145.4 275.2,144.0 275.3,145.9 275.4,146.2 275.5,145.0 275.6,145.3 275.7,145.0 275.8,146.5 275.9,146.2 276.0,146.7 276.1,144.6 276.2,147.9 276.3,144.9 276.4,144.8 276.5,145.8 276.6,145.2 276.7,147.2 276.8,145.3 276.9,145.1 277.0,146.5 277.1,146.8 277.2,145.0 277.3,145.3 277.4,145.4 277.5,145.6 277.6,147.2 277.7,146.8 277.8,146.7 277.9,146.9 278.0,145.8 278.1,146.5 278.2,145.7 278.3,145.2 278.4,147.2 278.5,144.3 278.6,145.8 278.7,145.3 278.8,144.4 278.9,145.5 279.0,145.9 279.1,146.2 279.2,145.2 279.3,146.5 279.4,146.1 279.5,146.6 279.6,144.2 279.7,145.5 279.8,145.4 279.9,146.4 280.0,145.3 280.1,145.5 280.2,144.9 280.3,144.9 280.4,145.1 280.5,146.7 280.6,145.0 280.7,143.8 280.8,146.2 280.9,145.5 281.0,146.4 281.1,146.4 281.2,145.7 281.3,145.6 281.4,145.5 281.5,145.9 281.6,145.3 281.7,146.1 281.8,147.1 281.9,145.4 282.0,145.4 282.1,145.4 282.2,146.5 282.3,146.5 282.4,147.2 282.5,146.6 282.6,146.1 282.7,146.3 282.8,144.9 282.9,146.4 283.0,146.1 283.1,147.7 283.2,147.1 283.3,145.3 283.4,145.5 283.5,146.7 283.6,144.2 283.7,145.2 283.8,146.3 283.9,146.5 284.0,146.2 284.1,147.0 284.2,145.8 284.3,146.1 284.4,145.8 284.5,145.1 284.6,146.1 284.7,145.5 284.8,146.1 284.9,143.8 285.0,146.1 285.1,145.6 285.2,145.5 285.3,146.1 285.4,145.6 285.5,146.8 285.6,147.1 285.7,146.8 285.8,146.9 285.9,146.4 286.0,146.1 286.1,145.0 286.2,145.7 286.3,147.1 286.4,146.7 286.5,145.6 286.6,146.2 286.7,147.0 286.8,145.9 286.9,147.5 287.0,145.4 287.1,146.7 287.2,146.7 287.3,146.2 287.4,146.3 287.5,146.5 287.6,144.2 287.7,146.5 287.8,147.1 287.9,146.4 288.0,147.1 288.1,145.1 288.2,146.1 288.3,146.4 288.4,145.9 288.5,147.1 288.6,146.5 288.7,145.7 288.8,146.8 288.9,146.8 289.0,145.8 289.1,146.7 289.2,146.5 289.3,146.4 289.4,145.1 289.5,147.2 289.6,146.7 289.7,146.1 289.8,146.4 289.9,146.4 290.0,145.9 290.1,145.7 290.2,146.2 290.3,145.7 290.4,145.8 290.5,145.2 290.6,145.9 290.7,147.0 290.8,146.4 290.9,146.2 291.0,145.9 291.1,145.8 291.2,144.9 291.3,147.6 291.4,145.6 291.5,144.9 291.6,146.5 291.7,146.4 291.8,145.8 291.9,144.9 292.0,145.0 292.1,147.5 292.2,146.1 292.3,145.7 292.4,147.8 292.5,145.7 292.6,145.4 292.7,146.7 292.8,146.5 292.9,147.6 293.0,144.9 293.1,146.5 293.2,144.8 293.3,146.6 293.4,145.7 293.5,145.8 293.6,145.6 293.7,147.0 293.8,147.6 293.9,146.2 294.0,146.0 294.1,145.8 294.2,146.7 294.3,145.4 294.4,148.8 294.5,146.1 294.6,147.7 294.7,146.4 294.8,145.1 294.9,144.9 295.0,145.9 295.1,145.7 295.2,146.1 295.3,145.3 295.4,148.3 295.5,148.1 295.6,144.7 295.7,146.7 295.8,147.3 295.9,146.0 296.0,146.1 296.1,147.2 296.2,146.8 296.3,145.3 296.4,147.3 296.5,145.9 296.6,147.9 296.7,145.5 296.8,144.3 296.9,146.4 297.0,147.3 297.1,146.7 297.2,146.4 297.3,145.5 297.4,147.1 297.5,144.7 297.6,147.0 297.7,145.3 297.8,145.8 297.9,145.2 298.0,145.5 298.1,147.6 298.2,145.3 298.3,146.5 298.4,145.6 298.5,147.2 298.6,145.2 298.7,146.3 298.8,147.1 298.9,148.3 299.0,145.3 299.1,145.6 299.2,146.3 299.3,147.6 299.4,145.5 299.5,147.0 299.6,145.8 299.7,145.4 299.8,145.0 299.9,146.5 300.0,147.2 300.1,146.3 300.2,144.5 300.3,145.9 300.4,147.2 300.5,147.1 300.6,146.6 300.7,147.6 300.8,145.2 300.9,145.3 301.0,148.4 301.1,146.9 301.2,146.2 301.3,145.9 301.4,144.1 301.5,147.1 301.6,144.6 301.7,144.6 301.8,146.3 301.9,147.6 302.0,146.0 302.1,146.7 302.2,146.0 302.3,146.7 302.4,144.9 302.5,148.2 302.6,145.5 302.7,146.8 302.8,144.6 302.9,147.9 303.0,146.7 303.1,148.1 303.2,145.8 303.3,147.2 303.4,146.2 303.5,146.3 303.6,147.5 303.7,145.6 303.8,147.0 303.9,148.0 304.0,147.9 304.1,147.3 304.2,146.6 304.3,145.5 304.4,147.6 304.5,145.8 304.6,147.4 304.7,146.1 304.8,146.4 304.9,146.4 305.0,146.9 305.1,146.0 305.2,146.5 305.3,145.9 305.4,146.8 305.5,146.6 305.6,146.7 305.7,145.6 305.8,146.6 305.9,146.4 306.0,146.9 306.1,146.4 306.2,145.5 306.3,147.0 306.4,145.8 306.5,146.6 306.6,144.6 306.7,146.8 306.8,146.9 306.9,145.6 307.0,146.9 307.1,146.0 307.2,147.6 307.3,146.9 307.4,145.3 307.5,146.2 307.6,144.8 307.7,146.1 307.8,146.8 307.9,147.1 308.0,146.3 308.1,146.2 308.2,146.5 308.3,145.8 308.4,146.6 308.5,147.3 308.6,146.5 308.7,147.1 308.8,145.7 308.9,145.9 309.0,146.7 309.1,148.1 309.2,147.2 309.3,147.9 309.4,146.4 309.5,147.5 309.6,144.9 309.7,146.8 309.8,144.6 309.9,147.4 310.0,146.8 310.1,147.4 310.2,146.7 310.3,146.0 310.4,145.8 310.5,146.6 310.6,147.7 310.7,146.9 310.8,145.9 310.9,145.9 311.0,145.8" fill="none" stroke="#ff1f4f" stroke-width="1.15" stroke-linejoin="round"/>
<polyline points="42.0,190.6 42.1,183.7 42.2,188.3 42.3,186.9 42.4,187.1 42.5,187.5 42.6,184.9 42.7,187.7 42.8,186.8 42.9,192.7 43.0,188.6 43.1,187.8 43.2,188.0 43.3,187.5 43.4,186.9 43.5,188.0 43.6,189.4 43.7,188.4 43.8,190.3 43.9,188.6 44.0,189.0 44.1,191.4 44.2,189.9 44.3,188.4 44.4,189.0 44.5,190.1 44.6,192.3 44.7,189.1 44.8,189.2 44.9,191.1 45.0,188.4 45.1,189.3 45.2,191.1 45.3,190.7 45.4,190.1 45.5,191.0 45.6,185.8 45.7,191.6 45.8,188.7 45.9,187.7 46.0,190.7 46.1,191.4 46.2,189.7 46.3,188.8 46.4,190.5 46.5,190.5 46.6,192.7 46.7,191.8 46.8,191.0 46.9,192.4 47.0,190.5 47.1,189.5 47.2,191.8 47.3,191.9 47.4,190.7 47.5,189.9 47.6,191.5 47.7,187.5 47.8,192.3 47.9,192.1 48.0,188.9 48.1,191.6 48.2,190.1 48.3,192.8 48.4,188.7 48.5,190.4 48.6,192.9 48.7,193.7 48.8,188.8 48.9,191.4 49.0,192.7 49.1,191.4 49.2,194.7 49.3,190.7 49.4,193.1 49.5,191.0 49.6,194.8 49.7,192.7 49.8,192.3 49.9,190.3 50.0,195.5 50.1,194.2 50.2,194.3 50.3,194.9 50.4,193.8 50.5,192.4 50.6,192.3 50.7,192.4 50.8,195.7 50.9,191.5 51.0,192.9 51.1,193.4 51.2,194.2 51.3,194.8 51.4,192.1 51.5,191.4 51.6,194.1 51.7,195.9 51.8,195.3 51.9,194.5 52.0,193.8 52.1,194.7 52.2,194.0 52.3,195.6 52.4,193.2 52.5,194.7 52.6,194.4 52.7,195.4 52.8,194.9 52.9,198.5 53.0,196.9 53.1,196.9 53.2,191.6 53.3,194.1 53.4,193.6 53.5,195.3 53.6,191.0 53.7,196.1 53.8,195.9 53.9,192.3 54.0,192.8 54.1,193.0 54.2,194.2 54.3,195.1 54.4,197.1 54.5,193.7 54.6,195.1 54.7,194.2 54.8,196.5 54.9,195.0 55.0,195.8 55.1,192.1 55.2,193.4 55.3,192.4 55.4,195.8 55.5,194.4 55.6,192.9 55.7,192.6 55.8,194.0 55.9,192.1 56.0,191.7 56.1,193.8 56.2,196.7 56.3,192.5 56.4,192.0 56.5,191.0 56.6,190.7 56.7,193.4 56.8,193.8 56.9,192.5 57.0,192.9 57.1,192.4 57.2,192.3 57.3,189.7 57.4,191.2 57.5,191.9 57.6,190.4 57.7,190.7 57.8,190.1 57.9,190.7 58.0,192.3 58.1,190.3 58.2,190.5 58.3,191.9 58.4,191.5 58.5,192.9 58.6,187.1 58.7,191.4 58.8,189.2 58.9,190.0 59.0,190.9 59.1,191.1 59.2,190.9 59.3,189.4 59.4,191.4 59.5,188.3 59.6,188.4 59.7,189.6 59.8,187.4 59.9,191.3 60.0,189.4 60.1,190.9 60.2,187.4 60.3,186.7 60.4,187.3 60.5,188.0 60.6,185.8 60.7,187.1 60.8,186.3 60.9,188.6 61.0,185.0 61.1,187.3 61.2,184.6 61.3,183.9 61.4,184.0 61.5,182.9 61.6,184.6 61.7,185.6 61.8,183.9 61.9,184.3 62.0,185.4 62.1,183.0 62.2,182.6 62.3,181.5 62.4,179.2 62.5,182.4 62.6,178.3 62.7,181.5 62.8,180.2 62.9,181.5 63.0,179.4 63.1,177.9 63.2,179.4 63.3,177.7 63.4,177.9 63.5,177.9 63.6,177.3 63.7,176.9 63.8,175.6 63.9,176.3 64.0,173.0 64.1,175.7 64.2,173.8 64.3,176.9 64.4,176.8 64.5,171.7 64.6,174.5 64.7,173.7 64.8,172.0 64.9,174.1 65.0,172.3 65.1,170.0 65.2,171.9 65.3,171.7 65.4,171.8 65.5,169.5 65.6,171.9 65.7,171.8 65.8,168.6 65.9,169.0 66.0,169.5 66.1,168.5 66.2,171.6 66.3,169.0 66.4,166.8 66.5,166.8 66.6,167.6 66.7,170.8 66.8,166.8 66.9,166.9 67.0,167.2 67.1,166.0 67.2,169.2 67.3,164.6 67.4,166.2 67.5,165.0 67.6,165.4 67.7,162.3 67.8,166.4 67.9,163.3 68.0,163.2 68.1,161.4 68.2,161.4 68.3,163.0 68.4,163.3 68.5,162.8 68.6,163.3 68.7,162.3 68.8,161.1 68.9,162.2 69.0,161.6 69.1,160.4 69.2,161.5 69.3,162.2 69.4,160.4 69.5,159.3 69.6,160.8 69.7,162.4 69.8,159.0 69.9,159.0 70.0,158.8 70.1,160.8 70.2,156.2 70.3,159.4 70.4,160.6 70.5,157.6 70.6,161.0 70.7,159.6 70.8,157.9 70.9,159.0 71.0,156.3 71.1,157.8 71.2,161.3 71.3,157.2 71.4,161.3 71.5,158.4 71.6,159.9 71.7,158.5 71.8,155.0 71.9,157.5 72.0,158.6 72.1,156.6 72.2,156.3 72.3,159.0 72.4,157.5 72.5,155.9 72.6,157.5 72.7,159.8 72.8,157.9 72.9,160.0 73.0,160.9 73.1,158.7 73.2,157.0 73.3,156.8 73.4,158.8 73.5,160.1 73.6,159.3 73.7,159.7 73.8,158.3 73.9,159.4 74.0,158.3 74.1,158.6 74.2,157.3 74.3,156.9 74.4,158.7 74.5,157.8 74.6,158.2 74.7,160.7 74.8,159.6 74.9,164.3 75.0,161.4 75.1,159.2 75.2,161.4 75.3,160.8 75.4,159.4 75.5,162.1 75.6,159.4 75.7,156.2 75.8,161.9 75.9,159.9 76.0,163.1 76.1,160.0 76.2,159.3 76.3,163.5 76.4,159.6 76.5,161.6 76.6,163.6 76.7,161.6 76.8,161.4 76.9,161.8 77.0,163.0 77.1,160.7 77.2,163.0 77.3,163.3 77.4,166.3 77.5,162.6 77.6,162.1 77.7,164.9 77.8,163.5 77.9,164.9 78.0,164.9 78.1,166.8 78.2,164.4 78.3,165.6 78.4,162.2 78.5,165.1 78.6,169.0 78.7,166.0 78.8,166.3 78.9,165.9 79.0,168.9 79.1,168.6 79.2,166.9 79.3,170.0 79.4,169.7 79.5,170.8 79.6,169.0 79.7,172.9 79.8,171.3 79.9,170.8 80.0,170.5 80.1,171.3 80.2,173.2 80.3,171.9 80.4,174.2 80.5,173.8 80.6,175.3 80.7,174.8 80.8,173.8 80.9,171.4 81.0,175.0 81.1,176.1 81.2,175.5 81.3,176.4 81.4,175.2 81.5,175.7 81.6,175.1 81.7,178.9 81.8,177.4 81.9,176.8 82.0,175.9 82.1,178.0 82.2,180.7 82.3,179.5 82.4,178.1 82.5,181.7 82.6,182.0 82.7,181.7 82.8,181.7 82.9,182.6 83.0,182.1 83.1,182.7 83.2,180.8 83.3,184.5 83.4,183.0 83.5,186.0 83.6,180.3 83.7,184.7 83.8,185.5 83.9,183.8 84.0,185.4 84.1,186.2 84.2,186.2 84.3,184.8 84.4,185.7 84.5,187.7 84.6,188.3 84.7,186.8 84.8,187.0 84.9,187.5 85.0,189.0 85.1,186.1 85.2,185.9 85.3,188.3 85.4,186.7 85.5,187.8 85.6,189.0 85.7,189.9 85.8,187.8 85.9,190.9 86.0,187.2 86.1,191.0 86.2,188.0 86.3,188.7 86.4,191.9 86.5,190.5 86.6,190.2 86.7,191.0 86.8,192.6 86.9,192.1 87.0,192.3 87.1,194.1 87.2,191.5 87.3,192.0 87.4,192.0 87.5,194.7 87.6,194.5 87.7,195.0 87.8,193.1 87.9,193.1 88.0,194.7 88.1,192.9 88.2,194.8 88.3,194.8 88.4,192.8 88.5,193.8 88.6,193.8 88.7,196.7 88.8,198.1 88.9,194.2 89.0,194.4 89.1,191.1 89.2,194.9 89.3,194.7 89.4,193.2 89.5,196.1 89.6,192.7 89.7,194.8 89.8,195.4 89.9,193.4 90.0,196.7 90.1,197.1 90.2,193.5 90.3,193.5 90.4,196.6 90.5,195.7 90.6,194.0 90.7,195.5 90.8,195.8 90.9,195.8 91.0,197.4 91.1,196.8 91.2,198.9 91.3,198.4 91.4,197.4 91.5,198.1 91.6,198.6 91.7,197.7 91.8,194.9 91.9,198.1 92.0,197.0 92.1,199.4 92.2,197.2 92.3,197.9 92.4,197.7 92.5,199.8 92.6,197.6 92.7,197.0 92.8,197.9 92.9,196.9 93.0,197.8 93.1,197.6 93.2,198.1 93.3,200.7 93.4,197.2 93.5,197.9 93.6,197.6 93.7,199.0 93.8,196.3 93.9,197.1 94.0,198.1 94.1,199.0 94.2,198.2 94.3,197.6 94.4,197.1 94.5,199.2 94.6,200.7 94.7,199.0 94.8,198.9 94.9,199.3 95.0,197.3 95.1,198.3 95.2,198.4 95.3,199.3 95.4,198.9 95.5,197.2 95.6,200.8 95.7,201.7 95.8,198.8 95.9,199.8 96.0,199.7 96.1,200.6 96.2,197.2 96.3,201.9 96.4,198.9 96.5,201.6 96.6,199.9 96.7,199.2 96.8,199.7 96.9,201.3 97.0,198.7 97.1,199.5 97.2,199.5 97.3,197.7 97.4,202.3 97.5,201.3 97.6,200.4 97.7,202.3 97.8,199.2 97.9,200.6 98.0,203.4 98.1,202.3 98.2,197.6 98.3,196.5 98.4,199.5 98.5,202.7 98.6,200.5 98.7,201.0 98.8,202.3 98.9,200.1 99.0,201.8 99.1,202.8 99.2,202.4 99.3,202.4 99.4,201.0 99.5,202.8 99.6,201.5 99.7,204.2 99.8,206.2 99.9,201.4 100.0,200.4 100.1,202.2 100.2,203.0 100.3,203.8 100.4,203.8 100.5,202.0 100.6,202.0 100.7,204.1 100.8,201.8 100.9,204.0 101.0,202.7 101.1,203.7 101.2,203.7 101.3,203.8 101.4,203.9 101.5,202.1 101.6,203.4 101.7,203.2 101.8,203.5 101.9,204.5 102.0,203.0 102.1,202.6 102.2,202.6 102.3,203.1 102.4,204.2 102.5,202.6 102.6,204.6 102.7,203.8 102.8,203.3 102.9,202.3 103.0,203.9 103.1,204.3 103.2,201.9 103.3,204.9 103.4,205.4 103.5,204.1 103.6,204.3 103.7,206.3 103.8,205.1 103.9,203.0 104.0,203.9 104.1,203.8 104.2,203.9 104.3,201.7 104.4,204.9 104.5,203.5 104.6,204.3 104.7,204.1 104.8,205.1 104.9,204.0 105.0,203.5 105.1,204.8 105.2,205.7 105.3,204.0 105.4,205.7 105.5,204.6 105.6,203.8 105.7,205.9 105.8,203.6 105.9,205.4 106.0,203.9 106.1,204.9 106.2,203.2 106.3,203.6 106.4,205.5 106.5,204.6 106.6,204.5 106.7,204.0 106.8,204.9 106.9,203.1 107.0,203.4 107.1,204.4 107.2,203.7 107.3,203.8 107.4,204.5 107.5,204.4 107.6,204.3 107.7,206.2 107.8,205.6 107.9,205.8 108.0,204.6 108.1,204.1 108.2,203.2 108.3,204.3 108.4,202.6 108.5,204.1 108.6,205.4 108.7,206.3 108.8,205.6 108.9,203.8 109.0,205.2 109.1,203.9 109.2,205.5 109.3,204.6 109.4,205.6 109.5,207.3 109.6,205.7 109.7,207.1 109.8,205.0 109.9,204.5 110.0,206.1 110.1,206.5 110.2,204.3 110.3,204.9 110.4,203.4 110.5,204.7 110.6,205.8 110.7,204.8 110.8,204.4 110.9,203.5 111.0,205.3 111.1,205.8 111.2,205.6 111.3,205.3 111.4,203.7 111.5,206.8 111.6,205.0 111.7,204.9 111.8,205.8 111.9,202.9 112.0,205.1 112.1,205.0 112.2,205.5 112.3,206.5 112.4,205.7 112.5,203.4 112.6,204.9 112.7,205.4 112.8,205.4 112.9,204.0 113.0,203.6 113.1,205.8 113.2,205.7 113.3,205.3 113.4,203.6 113.5,207.1 113.6,202.5 113.7,205.0 113.8,207.5 113.9,205.3 114.0,205.7 114.1,204.3 114.2,206.8 114.3,204.2 114.4,205.8 114.5,205.7 114.6,204.5 114.7,206.4 114.8,204.2 114.9,204.9 115.0,205.6 115.1,205.2 115.2,206.1 115.3,206.6 115.4,205.4 115.5,205.2 115.6,205.2 115.7,205.4 115.8,206.6 115.9,205.6 116.0,206.2 116.1,205.7 116.2,205.0 116.3,206.7 116.4,204.8 116.5,205.9 116.6,207.4 116.7,204.8 116.8,205.9 116.9,204.4 117.0,205.5 117.1,204.5 117.2,205.7 117.3,205.5 117.4,206.2 117.5,207.7 117.6,206.4 117.7,206.8 117.8,206.1 117.9,205.9 118.0,205.4 118.1,204.4 118.2,206.3 118.3,207.9 118.4,206.7 118.5,205.7 118.6,207.9 118.7,205.9 118.8,205.7 118.9,205.1 119.0,205.4 119.1,206.1 119.2,208.4 119.3,206.2 119.4,205.4 119.5,205.8 119.6,206.2 119.7,204.8 119.8,206.6 119.9,207.2 120.0,206.8 120.1,207.1 120.2,205.3 120.3,204.9 120.4,207.9 120.5,207.7 120.6,205.1 120.7,206.8 120.8,206.7 120.9,207.2 121.0,206.9 121.1,206.2 121.2,206.9 121.3,206.9 121.4,206.7 121.5,204.9 121.6,203.8 121.7,206.0 121.8,205.2 121.9,207.1 122.0,207.6 122.1,207.1 122.2,206.5 122.3,207.0 122.4,208.1 122.5,206.2 122.6,207.9 122.7,207.7 122.8,207.2 122.9,208.4 123.0,206.3 123.1,207.9 123.2,206.1 123.3,206.2 123.4,205.9 123.5,207.4 123.6,206.1 123.7,207.1 123.8,205.9 123.9,208.1 124.0,208.8 124.1,207.2 124.2,208.6 124.3,207.6 124.4,209.2 124.5,207.1 124.6,205.4 124.7,208.5 124.8,206.9 124.9,206.0 125.0,206.3 125.1,205.4 125.2,206.8 125.3,205.9 125.4,208.5 125.5,207.7 125.6,205.3 125.7,205.5 125.8,206.4 125.9,205.1 126.0,206.9 126.1,207.0 126.2,206.2 126.3,206.5 126.4,207.5 126.5,208.4 126.6,208.5 126.7,207.0 126.8,207.9 126.9,206.3 127.0,207.4 127.1,206.0 127.2,207.6 127.3,205.5 127.4,205.7 127.5,206.6 127.6,207.1 127.7,205.0 127.8,205.8 127.9,206.4 128.0,206.4 128.1,205.3 128.2,206.1 128.3,205.7 128.4,207.3 128.5,206.4 128.6,204.4 128.7,203.4 128.8,205.7 128.9,206.7 129.0,205.6 129.1,206.2 129.2,204.8 129.3,203.8 129.4,205.8 129.5,205.1 129.6,205.6 129.7,203.5 129.8,204.9 129.9,204.1 130.0,205.4 130.1,203.9 130.2,203.8 130.3,203.8 130.4,205.6 130.5,204.3 130.6,203.4 130.7,203.1 130.8,203.0 130.9,205.4 131.0,202.1 131.1,202.9 131.2,204.4 131.3,204.8 131.4,203.4 131.5,204.3 131.6,204.2 131.7,204.3 131.8,203.3 131.9,204.9 132.0,203.3 132.1,204.6 132.2,201.9 132.3,203.9 132.4,201.6 132.5,201.3 132.6,203.2 132.7,201.8 132.8,203.0 132.9,201.4 133.0,204.0 133.1,202.3 133.2,201.1 133.3,202.3 133.4,202.9 133.5,201.2 133.6,202.3 133.7,203.8 133.8,202.5 133.9,201.5 134.0,200.8 134.1,201.9 134.2,199.7 134.3,198.1 134.4,200.3 134.5,199.8 134.6,202.5 134.7,200.8 134.8,199.6 134.9,199.3 135.0,200.9 135.1,199.5 135.2,199.6 135.3,200.0 135.4,200.1 135.5,200.0 135.6,199.9 135.7,201.0 135.8,201.3 135.9,197.8 136.0,201.9 136.1,199.4 136.2,200.4 136.3,198.3 136.4,199.3 136.5,199.1 136.6,198.9 136.7,199.5 136.8,199.2 136.9,197.4 137.0,198.2 137.1,199.0 137.2,198.8 137.3,197.7 137.4,197.6 137.5,197.7 137.6,196.6 137.7,196.3 137.8,199.1 137.9,197.0 138.0,197.4 138.1,196.5 138.2,198.4 138.3,198.8 138.4,196.7 138.5,197.3 138.6,195.9 138.7,198.4 138.8,197.4 138.9,195.5 139.0,197.5 139.1,196.5 139.2,196.5 139.3,196.3 139.4,195.1 139.5,195.1 139.6,196.2 139.7,195.4 139.8,194.4 139.9,197.2 140.0,194.9 140.1,194.4 140.2,194.2 140.3,195.4 140.4,195.6 140.5,194.7 140.6,195.2 140.7,192.8 140.8,193.8 140.9,193.6 141.0,193.9 141.1,194.3 141.2,191.6 141.3,196.5 141.4,192.5 141.5,193.6 141.6,194.0 141.7,193.9 141.8,193.2 141.9,189.9 142.0,191.6 142.1,193.3 142.2,191.5 142.3,191.2 142.4,189.8 142.5,193.2 142.6,192.4 142.7,190.9 142.8,191.6 142.9,191.6 143.0,190.7 143.1,191.6 143.2,192.2 143.3,192.6 143.4,193.4 143.5,192.2 143.6,191.8 143.7,192.7 143.8,191.8 143.9,191.3 144.0,193.7 144.1,192.3 144.2,192.9 144.3,193.5 144.4,191.8 144.5,193.7 144.6,193.6 144.7,193.1 144.8,193.7 144.9,192.7 145.0,191.4 145.1,193.4 145.2,192.9 145.3,194.7 145.4,194.2 145.5,193.6 145.6,194.2 145.7,195.7 145.8,195.5 145.9,194.9 146.0,195.0 146.1,194.4 146.2,194.7 146.3,195.5 146.4,194.9 146.5,195.4 146.6,194.1 146.7,193.6 146.8,193.7 146.9,195.1 147.0,196.9 147.1,196.9 147.2,194.8 147.3,194.4 147.4,196.8 147.5,196.6 147.6,194.8 147.7,197.4 147.8,196.6 147.9,197.8 148.0,196.9 148.1,197.6 148.2,197.0 148.3,195.8 148.4,196.6 148.5,196.2 148.6,197.8 148.7,196.0 148.8,195.5 148.9,197.8 149.0,198.3 149.1,198.7 149.2,198.4 149.3,195.8 149.4,196.7 149.5,196.9 149.6,197.5 149.7,195.4 149.8,197.6 149.9,197.9 150.0,196.7 150.1,197.8 150.2,198.9 150.3,197.8 150.4,198.8 150.5,198.8 150.6,198.2 150.7,198.1 150.8,197.4 150.9,199.0 151.0,197.3 151.1,197.1 151.2,198.5 151.3,197.1 151.4,198.2 151.5,198.8 151.6,197.9 151.7,197.9 151.8,198.7 151.9,198.6 152.0,196.3 152.1,196.5 152.2,199.2 152.3,198.3 152.4,195.9 152.5,196.6 152.6,198.0 152.7,197.0 152.8,198.5 152.9,198.2 153.0,198.6 153.1,197.0 153.2,198.8 153.3,200.2 153.4,197.4 153.5,199.6 153.6,199.3 153.7,199.0 153.8,198.3 153.9,197.2 154.0,197.5 154.1,199.2 154.2,199.5 154.3,199.7 154.4,199.5 154.5,199.5 154.6,198.2 154.7,197.4 154.8,198.9 154.9,199.2 155.0,198.8 155.1,197.2 155.2,198.3 155.3,197.3 155.4,199.0 155.5,197.8 155.6,198.7 155.7,199.3 155.8,199.1 155.9,200.4 156.0,197.9 156.1,196.9 156.2,200.0 156.3,200.5 156.4,200.6 156.5,199.5 156.6,199.7 156.7,199.4 156.8,198.0 156.9,198.7 157.0,199.8 157.1,198.8 157.2,201.3 157.3,197.9 157.4,199.0 157.5,200.6 157.6,198.9 157.7,198.4 157.8,198.2 157.9,198.8 158.0,201.1 158.1,200.0 158.2,200.2 158.3,199.2 158.4,200.5 158.5,199.8 158.6,198.8 158.7,199.3 158.8,200.0 158.9,201.0 159.0,199.8 159.1,200.4 159.2,201.9 159.3,199.1 159.4,198.7 159.5,201.0 159.6,200.5 159.7,200.0 159.8,200.3 159.9,199.8 160.0,200.7 160.1,199.9 160.2,201.1 160.3,199.2 160.4,199.6 160.5,200.6 160.6,200.1 160.7,201.3 160.8,200.6 160.9,200.2 161.0,201.0 161.1,200.3 161.2,199.4 161.3,199.9 161.4,200.3 161.5,200.7 161.6,201.3 161.7,202.2 161.8,201.9 161.9,203.2 162.0,202.7 162.1,201.3 162.2,203.2 162.3,202.8 162.4,201.3 162.5,202.1 162.6,203.0 162.7,202.2 162.8,203.0 162.9,202.5 163.0,202.8 163.1,201.9 163.2,202.6 163.3,202.0 163.4,203.1 163.5,200.8 163.6,202.9 163.7,203.8 163.8,203.2 163.9,202.7 164.0,203.3 164.1,202.0 164.2,202.1 164.3,202.6 164.4,202.9 164.5,204.1 164.6,202.3 164.7,204.2 164.8,201.7 164.9,202.6 165.0,203.4 165.1,204.6 165.2,202.9 165.3,201.4 165.4,204.0 165.5,203.6 165.6,202.5 165.7,202.6 165.8,203.0 165.9,203.8 166.0,204.4 166.1,202.3 166.2,206.1 166.3,203.8 166.4,203.5 166.5,204.6 166.6,204.0 166.7,206.3 166.8,205.1 166.9,203.6 167.0,203.7 167.1,203.6 167.2,203.8 167.3,204.8 167.4,203.5 167.5,205.8 167.6,204.1 167.7,204.1 167.8,205.2 167.9,202.3 168.0,203.4 168.1,204.9 168.2,204.3 168.3,204.2 168.4,204.6 168.5,203.5 168.6,203.9 168.7,202.7 168.8,202.1 168.9,205.2 169.0,203.0 169.1,203.1 169.2,205.2 169.3,204.8 169.4,203.2 169.5,203.2 169.6,203.6 169.7,202.6 169.8,204.1 169.9,203.7 170.0,203.6 170.1,204.2 170.2,204.1 170.3,205.2 170.4,204.8 170.5,201.5 170.6,204.1 170.7,202.1 170.8,201.7 170.9,203.8 171.0,202.3 171.1,202.7 171.2,204.0 171.3,202.2 171.4,201.9 171.5,203.1 171.6,203.9 171.7,203.2 171.8,201.0 171.9,201.9 172.0,202.3 172.1,204.3 172.2,203.3 172.3,203.2 172.4,203.4 172.5,201.9 172.6,202.6 172.7,202.6 172.8,201.0 172.9,201.9 173.0,202.5 173.1,200.8 173.2,202.6 173.3,202.5 173.4,202.7 173.5,200.8 173.6,201.7 173.7,203.0 173.8,202.2 173.9,200.6 174.0,201.6 174.1,202.8 174.2,201.3 174.3,201.7 174.4,203.9 174.5,201.3 174.6,201.3 174.7,200.4 174.8,200.7 174.9,202.9 175.0,201.3 175.1,200.2 175.2,200.5 175.3,201.4 175.4,202.2 175.5,200.7 175.6,202.2 175.7,201.0 175.8,201.8 175.9,202.0 176.0,202.1 176.1,201.0 176.2,201.3 176.3,202.0 176.4,200.2 176.5,201.7 176.6,202.0 176.7,202.5 176.8,201.5 176.9,201.3 177.0,201.7 177.1,200.9 177.2,201.5 177.3,202.1 177.4,202.1 177.5,200.8 177.6,201.6 177.7,199.9 177.8,202.9 177.9,201.7 178.0,202.5 178.1,201.2 178.2,202.3 178.3,202.9 178.4,203.5 178.5,201.3 178.6,203.6 178.7,202.6 178.8,202.1 178.9,203.4 179.0,202.7 179.1,202.8 179.2,202.5 179.3,203.5 179.4,203.4 179.5,203.2 179.6,202.5 179.7,203.0 179.8,204.0 179.9,205.0 180.0,203.8 180.1,205.3 180.2,203.9 180.3,202.9 180.4,204.7 180.5,203.2 180.6,204.6 180.7,205.3 180.8,204.0 180.9,204.3 181.0,206.9 181.1,204.8 181.2,204.9 181.3,205.4 181.4,204.6 181.5,204.7 181.6,205.2 181.7,202.5 181.8,206.4 181.9,204.0 182.0,204.1 182.1,205.7 182.2,205.3 182.3,204.1 182.4,205.6 182.5,204.3 182.6,204.8 182.7,204.1 182.8,204.8 182.9,206.1 183.0,205.9 183.1,206.2 183.2,206.9 183.3,206.0 183.4,205.4 183.5,205.9 183.6,207.9 183.7,206.3 183.8,206.7 183.9,206.3 184.0,206.7 184.1,207.0 184.2,206.6 184.3,206.5 184.4,205.9 184.5,205.9 184.6,207.2 184.7,207.6 184.8,207.8 184.9,207.0 185.0,206.2 185.1,207.7 185.2,207.7 185.3,205.7 185.4,208.0 185.5,207.9 185.6,209.0 185.7,206.2 185.8,206.1 185.9,208.3 186.0,205.7 186.1,206.9 186.2,206.5 186.3,206.7 186.4,205.8 186.5,207.6 186.6,208.8 186.7,208.3 186.8,208.4 186.9,207.7 187.0,209.5 187.1,208.6 187.2,209.2 187.3,206.7 187.4,208.6 187.5,207.2 187.6,208.7 187.7,208.6 187.8,207.4 187.9,208.7 188.0,209.7 188.1,209.1 188.2,209.3 188.3,207.9 188.4,208.1 188.5,207.7 188.6,209.0 188.7,210.1 188.8,209.4 188.9,209.0 189.0,208.0 189.1,209.6 189.2,209.0 189.3,207.4 189.4,207.6 189.5,209.0 189.6,208.5 189.7,211.1 189.8,209.5 189.9,208.5 190.0,209.1 190.1,211.2 190.2,208.8 190.3,210.5 190.4,210.2 190.5,211.3 190.6,210.4 190.7,209.6 190.8,210.5 190.9,210.1 191.0,211.1 191.1,210.1 191.2,212.2 191.3,210.2 191.4,210.7 191.5,209.7 191.6,210.5 191.7,210.5 191.8,210.7 191.9,211.5 192.0,210.1 192.1,209.8 192.2,211.8 192.3,210.4 192.4,210.0 192.5,211.9 192.6,211.5 192.7,208.1 192.8,210.4 192.9,211.6 193.0,211.7 193.1,210.4 193.2,212.5 193.3,210.1 193.4,210.7 193.5,211.1 193.6,211.0 193.7,211.8 193.8,212.1 193.9,211.0 194.0,212.5 194.1,210.4 194.2,210.9 194.3,212.9 194.4,211.3 194.5,212.3 194.6,210.8 194.7,211.0 194.8,211.2 194.9,211.5 195.0,211.1 195.1,211.3 195.2,211.8 195.3,212.2 195.4,211.4 195.5,211.8 195.6,212.0 195.7,210.6 195.8,210.3 195.9,212.5 196.0,212.3 196.1,211.4 196.2,211.7 196.3,210.8 196.4,210.5 196.5,211.6 196.6,210.4 196.7,212.1 196.8,211.0 196.9,211.7 197.0,212.8 197.1,212.8 197.2,211.3 197.3,212.2 197.4,210.8 197.5,211.1 197.6,211.8 197.7,212.5 197.8,211.1 197.9,211.9 198.0,211.6 198.1,210.7 198.2,211.5 198.3,212.6 198.4,211.5 198.5,211.9 198.6,212.1 198.7,211.1 198.8,212.4 198.9,212.6 199.0,212.7 199.1,212.5 199.2,211.3 199.3,211.2 199.4,211.1 199.5,211.0 199.6,211.1 199.7,212.3 199.8,212.7 199.9,211.2 200.0,212.2 200.1,210.8 200.2,211.5 200.3,211.0 200.4,210.6 200.5,211.7 200.6,211.8 200.7,211.4 200.8,211.4 200.9,211.0 201.0,211.6 201.1,211.3 201.2,211.9 201.3,210.9 201.4,211.9 201.5,212.1 201.6,212.6 201.7,212.5 201.8,211.9 201.9,211.3 202.0,210.5 202.1,211.8 202.2,212.8 202.3,213.0 202.4,210.0 202.5,211.3 202.6,211.6 202.7,211.1 202.8,212.0 202.9,211.9 203.0,211.5 203.1,211.8 203.2,210.8 203.3,211.2 203.4,211.3 203.5,212.5 203.6,210.8 203.7,211.8 203.8,212.5 203.9,211.9 204.0,212.5 204.1,211.5 204.2,212.3 204.3,212.6 204.4,213.5 204.5,212.5 204.6,213.0 204.7,212.0 204.8,212.1 204.9,213.1 205.0,212.4 205.1,213.0 205.2,212.5 205.3,213.5 205.4,213.7 205.5,211.4 205.6,213.3 205.7,212.3 205.8,212.4 205.9,211.9 206.0,212.5 206.1,211.3 206.2,211.5 206.3,211.5 206.4,212.2 206.5,212.7 206.6,212.6 206.7,212.3 206.8,211.6 206.9,210.8 207.0,212.3 207.1,212.1 207.2,212.3 207.3,213.0 207.4,211.9 207.5,211.9 207.6,210.4 207.7,212.4 207.8,212.0 207.9,211.5 208.0,212.3 208.1,211.3 208.2,211.7 208.3,213.4 208.4,212.6 208.5,212.7 208.6,212.6 208.7,212.5 208.8,212.2 208.9,213.7 209.0,212.0 209.1,212.6 209.2,211.9 209.3,211.8 209.4,210.4 209.5,210.7 209.6,213.2 209.7,213.1 209.8,211.8 209.9,212.1 210.0,212.5 210.1,211.4 210.2,213.3 210.3,211.4 210.4,211.6 210.5,210.2 210.6,213.1 210.7,212.1 210.8,213.2 210.9,211.4 211.0,212.3 211.1,212.1 211.2,212.2 211.3,213.5 211.4,213.7 211.5,213.1 211.6,211.8 211.7,212.7 211.8,213.0 211.9,212.5 212.0,212.5 212.1,212.4 212.2,211.5 212.3,212.3 212.4,213.2 212.5,211.4 212.6,212.2 212.7,212.7 212.8,211.2 212.9,212.0 213.0,210.9 213.1,211.7 213.2,211.1 213.3,211.5 213.4,211.8 213.5,211.9 213.6,212.0 213.7,210.4 213.8,213.2 213.9,211.9 214.0,211.4 214.1,211.7 214.2,212.3 214.3,211.4 214.4,211.8 214.5,211.8 214.6,212.5 214.7,211.6 214.8,212.4 214.9,212.4 215.0,212.0 215.1,213.0 215.2,212.2 215.3,211.3 215.4,212.3 215.5,212.2 215.6,212.1 215.7,212.3 215.8,213.8 215.9,212.3 216.0,212.5 216.1,212.0 216.2,213.1 216.3,212.1 216.4,211.6 216.5,211.3 216.6,212.5 216.7,212.7 216.8,211.0 216.9,211.7 217.0,212.6 217.1,212.9 217.2,211.2 217.3,211.9 217.4,212.7 217.5,211.8 217.6,211.9 217.7,211.8 217.8,211.3 217.9,212.2 218.0,212.4 218.1,211.2 218.2,212.2 218.3,213.0 218.4,212.3 218.5,212.8 218.6,211.8 218.7,213.1 218.8,211.6 218.9,213.5 219.0,211.9 219.1,211.7 219.2,211.6 219.3,211.9 219.4,211.8 219.5,211.7 219.6,212.0 219.7,212.7 219.8,212.8 219.9,212.0 220.0,213.1 220.1,211.5 220.2,211.5 220.3,211.4 220.4,212.6 220.5,211.1 220.6,211.2 220.7,213.1 220.8,213.4 220.9,213.2 221.0,211.2 221.1,212.2 221.2,212.8 221.3,212.3 221.4,211.1 221.5,212.0 221.6,211.0 221.7,211.4 221.8,213.7 221.9,212.7 222.0,211.2 222.1,211.2 222.2,212.6 222.3,211.8 222.4,212.7 222.5,211.8 222.6,212.1 222.7,212.4 222.8,211.5 222.9,210.9 223.0,211.4 223.1,211.8 223.2,212.1 223.3,212.2 223.4,212.2 223.5,212.6 223.6,211.7 223.7,213.3 223.8,213.7 223.9,212.5 224.0,212.4 224.1,213.2 224.2,212.7 224.3,212.4 224.4,212.2 224.5,211.8 224.6,211.5 224.7,212.8 224.8,213.1 224.9,211.6 225.0,212.3 225.1,212.5 225.2,212.0 225.3,211.8 225.4,212.0 225.5,210.9 225.6,212.3 225.7,212.1 225.8,213.8 225.9,213.0 226.0,212.1 226.1,212.3 226.2,213.5 226.3,213.5 226.4,212.5 226.5,212.3 226.6,211.3 226.7,212.1 226.8,212.2 226.9,211.8 227.0,213.6 227.1,211.1 227.2,212.3 227.3,212.7 227.4,212.7 227.5,213.6 227.6,211.4 227.7,211.9 227.8,212.5 227.9,212.5 228.0,212.1 228.1,211.9 228.2,213.1 228.3,211.7 228.4,212.0 228.5,213.4 228.6,213.6 228.7,213.0 228.8,211.8 228.9,211.8 229.0,211.8 229.1,211.6 229.2,212.1 229.3,213.3 229.4,212.6 229.5,211.9 229.6,211.9 229.7,211.6 229.8,213.3 229.9,211.0 230.0,212.6 230.1,211.4 230.2,211.7 230.3,211.4 230.4,213.1 230.5,212.4 230.6,214.4 230.7,211.7 230.8,211.7 230.9,212.9 231.0,212.8 231.1,212.3 231.2,211.0 231.3,213.5 231.4,212.9 231.5,212.7 231.6,212.0 231.7,212.9 231.8,212.1 231.9,212.5 232.0,212.3 232.1,213.4 232.2,212.1 232.3,212.2 232.4,213.3 232.5,212.6 232.6,212.5 232.7,212.3 232.8,213.2 232.9,212.0 233.0,212.8 233.1,213.9 233.2,212.8 233.3,211.9 233.4,211.7 233.5,212.6 233.6,211.6 233.7,211.4 233.8,212.0 233.9,211.7 234.0,213.1 234.1,211.5 234.2,213.6 234.3,212.0 234.4,212.6 234.5,213.0 234.6,212.7 234.7,213.0 234.8,211.8 234.9,210.9 235.0,212.4 235.1,211.4 235.2,212.1 235.3,213.2 235.4,212.4 235.5,212.1 235.6,211.7 235.7,212.3 235.8,212.4 235.9,211.4 236.0,212.8 236.1,211.8 236.2,212.7 236.3,212.2 236.4,213.2 236.5,213.2 236.6,212.6 236.7,212.5 236.8,212.9 236.9,213.5 237.0,213.3 237.1,212.7 237.2,212.8 237.3,213.7 237.4,211.4 237.5,213.0 237.6,212.0 237.7,213.6 237.8,212.3 237.9,212.5 238.0,211.9 238.1,212.6 238.2,213.2 238.3,213.8 238.4,211.8 238.5,212.3 238.6,214.8 238.7,213.3 238.8,212.7 238.9,213.0 239.0,210.8 239.1,213.8 239.2,212.8 239.3,211.7 239.4,213.5 239.5,212.2 239.6,212.0 239.7,213.1 239.8,213.0 239.9,212.4 240.0,212.6 240.1,211.8 240.2,211.7 240.3,213.3 240.4,213.6 240.5,213.0 240.6,212.9 240.7,212.4 240.8,212.6 240.9,212.0 241.0,213.9 241.1,212.3 241.2,213.0 241.3,212.7 241.4,211.7 241.5,214.0 241.6,212.4 241.7,212.1 241.8,212.7 241.9,212.0 242.0,212.7 242.1,212.0 242.2,213.0 242.3,212.7 242.4,211.7 242.5,213.4 242.6,212.8 242.7,211.9 242.8,212.9 242.9,212.9 243.0,213.9 243.1,212.0 243.2,213.2 243.3,212.5 243.4,213.0 243.5,212.4 243.6,212.6 243.7,213.0 243.8,211.8 243.9,211.1 244.0,212.6 244.1,212.3 244.2,212.7 244.3,213.0 244.4,212.4 244.5,213.4 244.6,212.6 244.7,212.7 244.8,213.2 244.9,213.0 245.0,212.5 245.1,212.7 245.2,212.0 245.3,212.1 245.4,212.6 245.5,213.1 245.6,212.3 245.7,213.2 245.8,213.9 245.9,214.1 246.0,212.6 246.1,213.3 246.2,213.0 246.3,213.1 246.4,213.1 246.5,212.9 246.6,213.1 246.7,212.7 246.8,212.4 246.9,212.7 247.0,212.9 247.1,213.4 247.2,212.8 247.3,213.1 247.4,213.5 247.5,211.9 247.6,212.4 247.7,212.9 247.8,212.5 247.9,211.8 248.0,213.2 248.1,212.5 248.2,211.8 248.3,213.8 248.4,211.6 248.5,212.5 248.6,212.0 248.7,212.6 248.8,212.9 248.9,211.9 249.0,212.4 249.1,212.4 249.2,211.8 249.3,213.3 249.4,212.6 249.5,212.3 249.6,212.0 249.7,212.2 249.8,212.6 249.9,212.1 250.0,213.3 250.1,210.7 250.2,211.0 250.3,212.3 250.4,211.2 250.5,212.4 250.6,212.0 250.7,212.9 250.8,212.7 250.9,213.4 251.0,213.1 251.1,213.3 251.2,212.8 251.3,213.2 251.4,212.8 251.5,212.0 251.6,211.5 251.7,211.6 251.8,212.8 251.9,210.7 252.0,212.5 252.1,211.9 252.2,212.9 252.3,212.5 252.4,211.9 252.5,212.4 252.6,210.8 252.7,212.6 252.8,212.7 252.9,211.1 253.0,213.0 253.1,212.3 253.2,212.5 253.3,211.4 253.4,212.8 253.5,212.8 253.6,212.4 253.7,211.7 253.8,212.9 253.9,213.2 254.0,212.6 254.1,213.1 254.2,211.9 254.3,212.5 254.4,212.6 254.5,212.5 254.6,214.3 254.7,212.6 254.8,212.0 254.9,212.9 255.0,211.6 255.1,212.6 255.2,212.9 255.3,212.0 255.4,212.2 255.5,211.7 255.6,212.5 255.7,211.9 255.8,213.6 255.9,212.9 256.0,212.3 256.1,211.4 256.2,213.8 256.3,213.3 256.4,212.8 256.5,212.6 256.6,212.6 256.7,212.1 256.8,213.8 256.9,212.6 257.0,211.5 257.1,212.0 257.2,210.7 257.3,212.9 257.4,213.0 257.5,213.7 257.6,214.0 257.7,212.0 257.8,212.8 257.9,213.2 258.0,213.1 258.1,212.2 258.2,213.1 258.3,212.9 258.4,213.5 258.5,212.5 258.6,212.4 258.7,212.2 258.8,212.3 258.9,212.0 259.0,212.3 259.1,212.9 259.2,212.9 259.3,213.5 259.4,213.3 259.5,213.0 259.6,211.8 259.7,213.0 259.8,213.4 259.9,211.7 260.0,211.8 260.1,211.9 260.2,211.9 260.3,212.4 260.4,211.9 260.5,212.9 260.6,211.8 260.7,212.5 260.8,212.3 260.9,211.9 261.0,213.3 261.1,212.6 261.2,213.0 261.3,212.4 261.4,213.1 261.5,213.1 261.6,212.5 261.7,211.4 261.8,213.2 261.9,213.1 262.0,212.8 262.1,212.8 262.2,212.8 262.3,212.8 262.4,212.0 262.5,212.7 262.6,212.9 262.7,212.3 262.8,212.0 262.9,214.0 263.0,213.1 263.1,212.5 263.2,212.4 263.3,210.9 263.4,211.7 263.5,212.6 263.6,213.6 263.7,211.3 263.8,212.3 263.9,214.1 264.0,213.2 264.1,213.1 264.2,213.6 264.3,212.7 264.4,212.7 264.5,213.3 264.6,213.4 264.7,212.0 264.8,213.9 264.9,211.6 265.0,212.3 265.1,214.9 265.2,212.5 265.3,213.3 265.4,212.1 265.5,212.6 265.6,212.3 265.7,212.6 265.8,213.3 265.9,214.1 266.0,213.5 266.1,214.0 266.2,212.5 266.3,213.9 266.4,213.3 266.5,213.8 266.6,212.6 266.7,212.7 266.8,213.9 266.9,213.3 267.0,213.0 267.1,212.4 267.2,212.8 267.3,213.3 267.4,213.4 267.5,212.5 267.6,212.7 267.7,213.2 267.8,212.2 267.9,213.6 268.0,212.9 268.1,212.8 268.2,211.2 268.3,211.8 268.4,212.2 268.5,212.5 268.6,212.2 268.7,213.2 268.8,213.0 268.9,212.8 269.0,211.5 269.1,213.9 269.2,212.8 269.3,213.4 269.4,212.5 269.5,213.0 269.6,213.5 269.7,213.1 269.8,213.7 269.9,212.9 270.0,214.4 270.1,211.7 270.2,212.6 270.3,213.7 270.4,212.8 270.5,212.7 270.6,211.8 270.7,213.8 270.8,211.7 270.9,213.4 271.0,213.1 271.1,213.6 271.2,214.0 271.3,212.5 271.4,212.4 271.5,212.8 271.6,211.8 271.7,213.6 271.8,212.7 271.9,213.1 272.0,212.2 272.1,213.0 272.2,212.6 272.3,212.9 272.4,212.2 272.5,213.7 272.6,212.5 272.7,211.2 272.8,213.4 272.9,212.8 273.0,212.4 273.1,214.7 273.2,213.0 273.3,212.1 273.4,212.6 273.5,213.3 273.6,212.8 273.7,213.9 273.8,213.7 273.9,212.4 274.0,213.0 274.1,213.4 274.2,212.7 274.3,212.7 274.4,213.6 274.5,213.3 274.6,212.0 274.7,212.6 274.8,212.7 274.9,212.9 275.0,212.5 275.1,213.9 275.2,212.3 275.3,212.2 275.4,213.1 275.5,211.4 275.6,212.3 275.7,213.4 275.8,212.1 275.9,212.4 276.0,213.8 276.1,213.3 276.2,213.0 276.3,213.2 276.4,212.5 276.5,213.2 276.6,212.9 276.7,214.8 276.8,213.4 276.9,212.8 277.0,213.0 277.1,213.1 277.2,212.0 277.3,212.4 277.4,214.1 277.5,212.0 277.6,212.6 277.7,213.7 277.8,214.1 277.9,212.3 278.0,214.0 278.1,212.8 278.2,214.2 278.3,213.4 278.4,212.8 278.5,213.5 278.6,213.4 278.7,212.5 278.8,214.5 278.9,212.8 279.0,213.8 279.1,212.7 279.2,211.8 279.3,212.3 279.4,213.0 279.5,213.5 279.6,214.3 279.7,213.1 279.8,212.8 279.9,212.2 280.0,213.0 280.1,213.3 280.2,211.5 280.3,214.0 280.4,213.8 280.5,214.6 280.6,212.4 280.7,213.1 280.8,213.1 280.9,212.1 281.0,212.4 281.1,212.4 281.2,213.4 281.3,213.3 281.4,214.0 281.5,212.8 281.6,212.1 281.7,213.4 281.8,213.3 281.9,213.5 282.0,213.9 282.1,212.6 282.2,213.6 282.3,212.3 282.4,213.2 282.5,213.5 282.6,213.0 282.7,213.2 282.8,212.1 282.9,212.6 283.0,213.2 283.1,212.2 283.2,212.5 283.3,214.8 283.4,213.2 283.5,212.5 283.6,212.3 283.7,214.0 283.8,211.1 283.9,212.8 284.0,213.5 284.1,212.6 284.2,213.4 284.3,212.3 284.4,213.0 284.5,213.0 284.6,213.0 284.7,213.1 284.8,213.0 284.9,213.8 285.0,212.8 285.1,212.6 285.2,212.8 285.3,212.8 285.4,211.9 285.5,211.6 285.6,212.0 285.7,213.2 285.8,212.5 285.9,212.7 286.0,215.0 286.1,213.8 286.2,212.8 286.3,212.5 286.4,214.0 286.5,212.4 286.6,213.9 286.7,213.4 286.8,214.0 286.9,212.5 287.0,213.6 287.1,211.7 287.2,212.9 287.3,213.7 287.4,213.5 287.5,211.7 287.6,213.5 287.7,213.3 287.8,212.9 287.9,212.5 288.0,212.8 288.1,212.6 288.2,213.7 288.3,213.3 288.4,213.7 288.5,213.5 288.6,212.1 288.7,213.1 288.8,214.5 288.9,212.2 289.0,213.2 289.1,212.5 289.2,212.4 289.3,213.1 289.4,213.6 289.5,213.5 289.6,213.3 289.7,213.7 289.8,211.9 289.9,213.6 290.0,213.3 290.1,212.9 290.2,213.0 290.3,212.4 290.4,213.8 290.5,212.5 290.6,212.0 290.7,213.0 290.8,212.6 290.9,212.9 291.0,214.1 291.1,212.9 291.2,213.1 291.3,214.6 291.4,212.0 291.5,213.3 291.6,213.8 291.7,214.1 291.8,214.6 291.9,212.5 292.0,213.4 292.1,212.9 292.2,212.7 292.3,212.5 292.4,212.0 292.5,213.2 292.6,213.5 292.7,212.2 292.8,213.5 292.9,212.6 293.0,212.3 293.1,211.1 293.2,213.8 293.3,213.5 293.4,212.8 293.5,212.7 293.6,212.1 293.7,213.4 293.8,212.9 293.9,213.4 294.0,213.1 294.1,212.0 294.2,211.9 294.3,213.3 294.4,211.8 294.5,213.2 294.6,213.6 294.7,212.1 294.8,213.5 294.9,213.0 295.0,213.4 295.1,212.6 295.2,213.0 295.3,213.3 295.4,214.3 295.5,213.5 295.6,213.4 295.7,212.1 295.8,213.3 295.9,212.5 296.0,213.0 296.1,213.2 296.2,213.7 296.3,213.4 296.4,213.2 296.5,213.0 296.6,214.0 296.7,212.4 296.8,213.1 296.9,214.0 297.0,212.9 297.1,213.6 297.2,213.7 297.3,214.4 297.4,213.8 297.5,211.9 297.6,213.0 297.7,213.2 297.8,213.6 297.9,213.3 298.0,214.4 298.1,213.8 298.2,212.2 298.3,212.6 298.4,211.6 298.5,214.2 298.6,212.9 298.7,212.9 298.8,211.9 298.9,212.7 299.0,213.3 299.1,212.7 299.2,212.7 299.3,212.5 299.4,214.4 299.5,212.6 299.6,211.9 299.7,212.6 299.8,212.7 299.9,212.9 300.0,212.8 300.1,212.1 300.2,212.8 300.3,213.2 300.4,211.9 300.5,214.3 300.6,214.1 300.7,211.6 300.8,212.7 300.9,213.6 301.0,213.9 301.1,214.2 301.2,211.6 301.3,212.1 301.4,212.5 301.5,213.3 301.6,212.1 301.7,213.2 301.8,213.2 301.9,213.4 302.0,212.0 302.1,213.1 302.2,213.0 302.3,212.6 302.4,213.9 302.5,212.7 302.6,214.0 302.7,212.5 302.8,214.1 302.9,214.1 303.0,212.4 303.1,213.2 303.2,213.2 303.3,212.3 303.4,213.5 303.5,213.4 303.6,212.3 303.7,213.0 303.8,213.6 303.9,212.8 304.0,212.5 304.1,214.1 304.2,212.3 304.3,213.2 304.4,213.8 304.5,213.5 304.6,211.7 304.7,212.7 304.8,212.9 304.9,212.8 305.0,213.4 305.1,213.4 305.2,213.1 305.3,213.2 305.4,213.7 305.5,213.9 305.6,211.7 305.7,214.6 305.8,212.6 305.9,213.6 306.0,211.8 306.1,212.6 306.2,212.1 306.3,213.8 306.4,213.6 306.5,213.0 306.6,212.9 306.7,213.3 306.8,212.3 306.9,212.6 307.0,212.5 307.1,213.6 307.2,213.0 307.3,212.1 307.4,213.3 307.5,213.4 307.6,214.0 307.7,212.6 307.8,213.3 307.9,214.5 308.0,212.8 308.1,212.7 308.2,213.4 308.3,212.6 308.4,213.0 308.5,212.6 308.6,212.4 308.7,213.6 308.8,212.7 308.9,212.3 309.0,212.8 309.1,212.9 309.2,213.2 309.3,213.7 309.4,214.2 309.5,212.1 309.6,212.8 309.7,211.7 309.8,213.1 309.9,213.4 310.0,212.5 310.1,212.3 310.2,212.3 310.3,211.9 310.4,213.4 310.5,214.3 310.6,212.2 310.7,214.1 310.8,212.9 310.9,212.0 311.0,213.4" fill="none" stroke="#0e1420" stroke-width="1.35" stroke-linejoin="round"/>
<polyline points="46.7,347.5 48.4,348.4 50.2,346.3 52.0,348.8 53.7,346.6 55.5,344.0 56.7,347.5 58.2,341.7 59.9,345.8 61.3,342.7 63.5,343.1 65.2,340.4 67.0,336.9 68.8,337.4 70.5,338.7 72.3,337.4 74.1,340.1 75.9,337.8 77.3,339.2 79.0,336.0 81.2,333.4 82.0,331.6 83.3,332.8 85.1,329.8 86.5,328.1 87.4,323.3 88.2,328.1 89.1,331.6 90.4,327.2 91.8,330.4 93.2,325.4 95.3,324.5 97.1,323.3 98.9,325.4 100.3,324.5 101.5,318.3 103.3,313.0 105.3,308.3 107.1,304.8 108.0,302.1 109.2,304.8 110.6,302.1 112.4,298.6 114.2,295.6 115.6,297.7 116.8,302.1 118.6,300.4 120.4,301.2 122.1,299.5 123.9,302.1 125.7,299.5 127.4,303.0 129.2,298.6 131.0,300.4 132.7,299.1 134.5,297.7 136.3,295.6 137.5,302.1 138.9,297.7 140.7,299.5 142.5,293.3 143.9,292.0 145.1,296.8 146.9,295.9 148.7,299.5 150.4,306.5 152.2,308.3 154.0,307.4 155.0,309.5 156.8,309.1 158.2,312.1 160.0,309.5 161.7,316.5 163.0,321.0 164.7,317.4 166.5,321.0 168.3,318.3 170.0,322.7 171.3,327.2 172.7,323.6 174.1,325.4 175.9,328.1 177.7,327.2 179.4,328.9 181.5,325.4 183.3,328.1 185.1,325.8 186.9,327.2 188.6,330.4 190.4,327.2 192.2,328.6 193.9,327.2 195.7,328.1 197.5,324.5 199.2,328.9 200.7,327.2 201.9,322.7 203.1,328.1 204.9,325.4 206.3,328.1 207.7,330.7 209.9,329.3 212.7,328.7 215.3,326.9 217.1,329.6 218.8,332.2 220.6,327.8 222.4,330.4 224.2,326.9 225.9,330.4 227.7,331.3 229.8,332.7 231.6,329.6 233.0,327.4 234.8,330.4 236.5,325.1 238.3,324.2 240.1,326.4 242.7,326.9 244.5,327.8 246.3,325.7 248.1,326.4 249.8,326.9 251.6,324.2 253.4,323.4 255.1,324.6 256.4,323.4 257.8,327.8 259.6,326.9 261.0,329.6 262.7,323.4 264.0,326.4 265.8,323.4 267.5,320.4 269.3,323.4 270.8,321.2 272.8,322.7 274.9,319.1 277.0,324.1 279.0,321.2 281.1,324.1 283.2,324.7 285.2,322.7 287.3,319.6 289.4,319.1 291.4,317.9 293.5,319.6 295.6,317.1 297.6,314.4 299.7,315.4 301.8,313.8 304.2,312.3 306.3,315.0 308.4,311.3 309.4,318.5 311.5,313.4 313.5,310.9 315.6,313.4 317.7,311.3 319.7,312.3 321.8,310.3 323.8,308.2 324.9,306.1 326.1,310.3" fill="none" stroke="#2260f6" stroke-width="1.3" stroke-linejoin="round"/>
<polyline points="46.7,430.4 48.4,427.8 50.2,433.1 52.0,432.2 53.2,427.8 54.6,428.7 56.0,426.9 57.8,428.7 59.9,424.2 61.7,425.7 63.5,428.1 65.2,426.4 67.0,423.9 68.8,421.1 70.5,418.0 72.3,418.9 74.1,418.6 75.5,420.7 77.3,414.0 79.0,413.6 80.8,411.5 82.0,410.1 83.8,405.7 85.1,404.8 86.5,408.3 88.2,408.7 90.0,404.8 91.4,402.7 92.7,408.0 94.4,407.4 96.2,403.0 98.0,402.1 99.8,400.9 100.0,401.6 101.8,398.0 103.2,391.0 105.0,387.4 106.7,383.9 108.5,375.9 109.7,369.7 111.5,369.7 113.3,368.8 115.0,368.8 116.5,369.2 118.0,367.7 120.2,365.8 122.4,366.5 124.6,367.7 126.1,368.8 128.0,363.3 129.5,368.3 131.2,371.7 133.0,371.7 134.9,366.3 136.4,367.3 138.3,360.6 139.8,359.5 141.3,362.9 142.7,360.6 143.8,357.4 144.5,363.6 145.2,362.1 146.3,365.8 148.2,368.8 149.7,371.0 151.1,375.4 152.2,374.2 153.6,377.6 155.1,378.6 156.8,379.7 158.5,383.3 160.3,386.8 162.1,389.5 163.8,392.1 165.6,394.8 167.4,398.0 169.2,399.2 170.9,401.5 172.7,401.0 174.5,399.2 176.2,402.7 178.0,400.4 179.8,403.3 181.5,404.5 183.3,404.5 185.1,402.2 186.9,402.7 188.6,402.2 189.5,399.2 190.4,403.6 192.2,409.3 193.9,405.0 195.7,407.2 197.5,405.4 199.2,403.6 200.7,402.7 201.9,411.6 203.7,409.3 205.4,407.2 207.2,406.3 209.0,405.0 210.8,407.2 212.0,409.8 213.4,402.7 214.4,401.1 216.2,406.4 218.0,411.7 219.7,407.4 221.0,403.9 222.7,408.7 224.2,405.7 225.9,410.4 227.7,406.0 229.5,407.4 231.2,404.6 233.0,406.9 234.8,412.2 236.5,409.6 238.3,402.5 240.1,404.2 241.5,401.6 243.3,403.9 245.0,402.5 246.8,407.4 248.6,408.1 250.4,403.9 252.1,401.6 253.9,399.8 255.1,406.4 256.4,402.5 257.8,406.4 259.6,402.1 261.7,401.1 264.0,405.1 265.0,404.1 266.7,399.1 268.1,393.4 269.5,397.1 271.6,397.9 273.7,397.1 275.3,399.6 277.4,395.0 279.5,395.8 281.5,392.3 283.6,393.8 285.2,396.5 287.3,391.7 289.4,394.4 290.8,390.3 292.3,393.8 294.3,390.3 296.4,392.3 298.5,387.6 300.1,385.5 301.8,390.9 303.2,385.1 304.2,390.3 305.9,383.5 307.9,386.1 310.0,383.5 311.5,385.5 313.5,381.0 315.6,377.9 317.0,382.6 319.1,378.5 320.8,379.9 322.4,377.9 323.8,382.6 324.9,376.8 326.1,376.4" fill="none" stroke="#ff1f4f" stroke-width="1.3" stroke-linejoin="round"/>
<polyline points="46.7,482.7 47.9,479.6 49.3,477.4 50.7,479.2 52.0,477.4 53.2,481.3 54.6,479.9 56.4,481.0 58.2,479.9 59.9,478.7 61.7,477.4 63.5,476.4 65.2,475.1 67.0,474.6 68.8,473.9 70.5,472.5 72.3,475.1 74.1,473.4 75.9,471.6 77.6,472.1 79.4,469.8 81.2,467.5 82.9,468.1 84.4,467.2 85.6,466.3 86.8,471.1 88.2,469.3 90.4,468.1 92.1,467.2 93.9,466.3 95.7,465.0 97.5,468.1 99.2,464.5 101.0,462.7 102.8,460.1 103.5,460.4 105.3,457.4 107.1,454.4 108.5,451.2 110.3,452.7 112.0,450.9 113.8,449.8 115.6,449.1 117.3,448.1 119.1,447.7 120.9,446.8 122.7,445.6 124.4,446.8 126.2,448.1 128.0,445.9 129.7,445.6 131.5,446.3 133.3,447.3 135.0,443.3 136.8,444.5 138.1,447.3 139.8,443.3 141.1,441.0 142.1,443.8 142.8,446.3 143.4,441.5 144.2,447.7 145.7,449.5 146.9,447.7 148.7,450.9 150.4,451.6 152.2,450.9 154.0,453.9 155.0,454.5 156.8,456.8 158.5,457.7 160.3,460.4 162.1,463.0 163.8,463.9 165.6,463.4 167.4,464.8 169.2,463.9 170.9,465.7 172.7,466.2 174.5,469.2 175.9,471.0 177.7,468.3 179.4,468.0 181.2,466.9 183.0,467.4 184.7,466.5 186.5,468.0 188.3,467.4 190.0,469.7 191.3,471.0 193.1,466.2 194.8,467.4 196.6,468.7 198.4,470.1 200.1,469.7 201.4,468.3 202.4,472.7 203.7,470.1 205.4,471.0 207.2,470.4 209.0,470.1 210.2,468.0 211.4,467.5 212.7,471.6 214.4,467.2 216.2,469.8 218.0,474.2 219.7,470.4 221.5,468.6 223.3,472.1 225.0,471.6 226.8,472.8 228.6,472.1 230.4,471.1 232.1,469.8 233.9,468.6 235.7,472.8 237.4,468.1 239.2,469.8 241.0,467.5 242.7,466.3 244.5,469.8 246.3,469.3 248.1,470.4 249.8,469.8 251.6,470.4 253.4,469.3 255.1,468.1 256.9,468.6 258.7,467.2 260.4,468.6 262.2,467.2 264.0,466.3 265.8,464.0 267.1,467.9 269.1,469.6 271.2,468.5 273.3,465.8 274.9,463.8 276.4,465.0 278.4,467.9 280.5,467.1 282.6,468.5 284.6,469.1 286.7,467.9 288.1,462.3 289.8,469.1 291.8,467.1 293.9,465.0 296.0,462.3 297.6,460.3 299.1,463.4 300.5,460.3 302.2,464.4 304.2,461.3 306.3,462.3 308.4,463.4 310.0,458.8 311.5,461.3 313.5,459.6 315.6,462.9 317.0,458.2 318.3,465.8 319.7,459.2 321.2,460.9 322.4,457.2 323.2,460.3 324.9,454.7 326.1,457.6" fill="none" stroke="#0e1420" stroke-width="1.25" stroke-linejoin="round"/>
<line x1="72.1" y1="45" x2="72.1" y2="221" stroke="#8a9aa6" stroke-width="1" stroke-dasharray="1.3 1.3"/>
<line x1="143.2" y1="180" x2="143.2" y2="221" stroke="#8a9aa6" stroke-width="1" stroke-dasharray="1.3 1.3"/>
<line x1="89" y1="213" x2="89" y2="221" stroke="#8a9aa6" stroke-width="1" stroke-dasharray="1.3 1.3"/>
<line x1="175.5" y1="214" x2="175.5" y2="221" stroke="#8a9aa6" stroke-width="1" stroke-dasharray="1.3 1.3"/>
<rect x="70.30" y="40.80" width="3.8" height="3.8" fill="#111"/>
<rect x="140.90" y="176.10" width="3.8" height="3.8" fill="#111"/>
<rect x="142.00" y="203.40" width="3.6" height="3.6" fill="#111"/>
<rect x="74.20" y="214.00" width="3.8" height="3.8" fill="#111"/>
<rect x="87.50" y="207.00" width="3.4" height="3.4" fill="#111"/>
<rect x="86.50" y="210.00" width="3.4" height="3.4" fill="#111"/>
<rect x="106.10" y="214.00" width="3.8" height="3.8" fill="#111"/>
<rect x="131.90" y="217.40" width="3.6" height="3.6" fill="#111"/>
<rect x="173.05" y="210.45" width="3.5" height="3.5" fill="#111"/>
<rect x="184.20" y="214.20" width="3.6" height="3.6" fill="#111"/>
<rect x="156.30" y="219.10" width="2.4" height="2.4" fill="#111"/>
<rect x="176.30" y="219.10" width="2.4" height="2.4" fill="#111"/>
<rect x="197.20" y="218.50" width="2.6" height="2.6" fill="#111"/>
<rect x="216.80" y="219.00" width="2.4" height="2.4" fill="#111"/>
<rect x="224.00" y="217.60" width="2.8" height="2.8" fill="#111"/>
<rect x="249.80" y="217.20" width="3.4" height="3.4" fill="#111"/>
<rect x="253.20" y="217.00" width="3.4" height="3.4" fill="#111"/>
<rect x="256.90" y="217.60" width="3.0" height="3.0" fill="#111"/>
<rect x="260.30" y="217.30" width="3.2" height="3.2" fill="#111"/>
<text x="3.9" y="23.8" class="pn">(i)</text>
<text x="1.7" y="283.7" class="pn">(ii)</text>
<text x="176.2" y="252" class="at" text-anchor="middle">2 theta (deg)</text>
<text x="140.8" y="523.8" class="at" style="font-size:10.5px">Raman shift (cm<tspan dy="-4.3" font-size="7">-1</tspan><tspan dy="4.3">)</tspan></text>
<text transform="translate(29.1,121.6) rotate(-90)" class="at" text-anchor="middle" style="font-size:10.2px">Intensity (a.u)</text>
<text transform="translate(32.6,387.9) rotate(-90)" class="at" text-anchor="middle" style="font-size:10.5px">Intensity (a.u)</text>
<text transform="translate(76.2,29.6) rotate(-90)" class="pk">(112)</text>
<text transform="translate(116.8,61.6) rotate(-90)" class="pk">(211)</text>
<text transform="translate(146.4,42.5) rotate(-90)" class="pk">(204/220)</text>
<text transform="translate(160.7,51.2) rotate(-90)" class="pk">(301)</text>
<text transform="translate(180.2,50.4) rotate(-90)" class="pk">(116/312)</text>
<text transform="translate(262.3,59) rotate(-90)" class="pk">(316/332/413)</text>
<text x="314" y="71.3" class="lb">c</text>
<text x="314" y="147.6" class="lb">b</text>
<text x="314.6" y="213.8" class="lb">a</text>
<text x="331.6" y="311.7" class="lb">a</text>
<text x="329.8" y="380.2" class="lb">b</text>
<text x="330.6" y="462" class="lb">c</text>
<text transform="translate(113.9,292) rotate(-90)" class="rl">A<tspan dy="2.6" font-size="5.5">1</tspan><tspan dy="-2.6"> + </tspan><tspan dy="-2.2" font-size="5.5">*</tspan><tspan dy="2.2">A</tspan><tspan dy="2.6" font-size="5.5">1</tspan></text>
<text transform="translate(136.9,287.2) rotate(-90)" class="rl">E<tspan dy="-5.0" dx="-0.6">1</tspan><tspan dy="7.6">LO</tspan></text>
</svg>
</body></html>
